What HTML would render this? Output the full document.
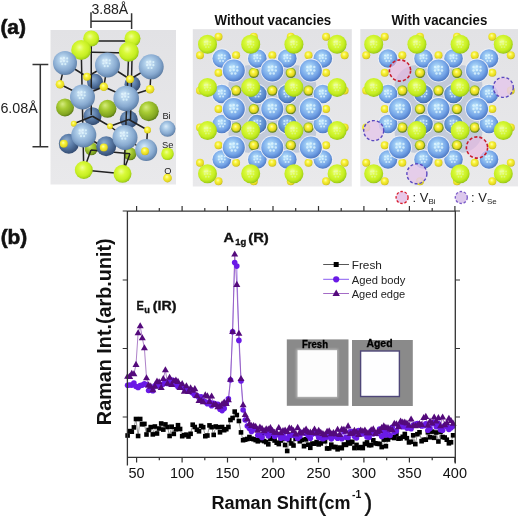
<!DOCTYPE html>
<html><head><meta charset="utf-8"><title>Bi2O2Se vacancies and Raman spectra</title>
<style>html,body{margin:0;padding:0;background:#fff;width:520px;height:516px;overflow:hidden}svg{display:block}</style></head>
<body><svg width="520" height="516" viewBox="0 0 520 516">
<rect width="520" height="516" fill="#fff"/>
<defs>
<radialGradient id="gB" cx="0.45" cy="0.42" r="0.6" fx="0.42" fy="0.36">
 <stop offset="0" stop-color="#c8ecff"/><stop offset="0.3" stop-color="#9ccaf4"/><stop offset="0.68" stop-color="#76a6e8"/><stop offset="0.88" stop-color="#5a88d2"/><stop offset="1" stop-color="#4c74b8"/></radialGradient>
<radialGradient id="gB1" cx="0.45" cy="0.42" r="0.6" fx="0.4" fy="0.34">
 <stop offset="0" stop-color="#dcedfa"/><stop offset="0.3" stop-color="#b0cfea"/><stop offset="0.7" stop-color="#88aad0"/><stop offset="0.9" stop-color="#6a8cb4"/><stop offset="1" stop-color="#56749a"/></radialGradient>
<radialGradient id="gBd" cx="0.42" cy="0.38" r="0.62" fx="0.38" fy="0.32">
 <stop offset="0" stop-color="#90aed0"/><stop offset="0.5" stop-color="#5c7eaa"/><stop offset="1" stop-color="#344c72"/></radialGradient>
<radialGradient id="gG" cx="0.45" cy="0.42" r="0.6" fx="0.42" fy="0.36">
 <stop offset="0" stop-color="#f0ff98"/><stop offset="0.35" stop-color="#dafa3c"/><stop offset="0.72" stop-color="#c6ee22"/><stop offset="0.9" stop-color="#a8d618"/><stop offset="1" stop-color="#88b418"/></radialGradient>
<radialGradient id="gG1" cx="0.42" cy="0.38" r="0.62" fx="0.36" fy="0.3">
 <stop offset="0" stop-color="#d6ec80"/><stop offset="0.4" stop-color="#a8cc34"/><stop offset="0.85" stop-color="#80a420"/><stop offset="1" stop-color="#5c7a18"/></radialGradient>
<radialGradient id="gY" cx="0.45" cy="0.42" r="0.6" fx="0.42" fy="0.36">
 <stop offset="0" stop-color="#ffffb0"/><stop offset="0.4" stop-color="#f8f236"/><stop offset="0.82" stop-color="#e2d622"/><stop offset="1" stop-color="#bcae18"/></radialGradient>
<radialGradient id="gBm" cx="0.45" cy="0.42" r="0.6" fx="0.42" fy="0.36">
 <stop offset="0" stop-color="#a8d0f4"/><stop offset="0.4" stop-color="#78a8e0"/><stop offset="0.85" stop-color="#4f7ec4"/><stop offset="1" stop-color="#3a5e9c"/></radialGradient>
<linearGradient id="gBg" x1="0" y1="0" x2="0" y2="1"><stop offset="0" stop-color="#e2e2e5"/><stop offset="1" stop-color="#e9e9eb"/></linearGradient>
</defs>
<rect x="50.5" y="30" width="125.5" height="154.5" fill="url(#gBg)"/>
<circle cx="95.0" cy="81.8" r="8" fill="url(#gBd)"/><circle cx="132.5" cy="84.2" r="8" fill="url(#gBd)"/><circle cx="92.5" cy="116.2" r="9" fill="url(#gBd)"/><circle cx="128.8" cy="119.5" r="9" fill="url(#gBd)"/><circle cx="91.2" cy="148.8" r="6.5" fill="url(#gG1)"/><circle cx="130.0" cy="153.8" r="6.5" fill="url(#gG1)"/><path d="M91.25 41L132.5 41M81.25 52L128.75 53M91.25 38.5L81.25 50M132.5 38.5L128.75 51.75M91.25 38.5L91.25 115M81.25 50L83.75 170M132.5 38.5L130.5 120M128.75 51.75L124 173.75M83.75 170L122.5 173.75M91 150L130 153.75M91 150L83.75 170M130 153.75L122.5 173.75M65 63L60 84.25M65 63L87 76.75M87 76.75L107.5 65M107.5 65L103.75 86.75M107.5 65L130 79.25M130 79.25L151.25 66.75M151.25 66.75L150 89.25M60 84.25L82.5 95.5M103.75 86.75L82.5 95.5M103.75 86.75L126.25 96.75M150 89.25L126.25 96.75M73.75 123.75L83.75 135M73.75 123.75L92.5 116.25M110 126.25L92.5 116.25M110 126.25L125 137.5M110 126.25L128.75 119.5M147.5 130L128.75 119.5M147.5 130L146.25 150M63.75 143.75L83.75 135M103.75 147.5L83.75 135M103.75 147.5L125 137.5M145 151.25L125 137.5" stroke="#222" stroke-width="1.5" fill="none"/><circle cx="91.2" cy="38.5" r="8" fill="url(#gG)"/><circle cx="132.5" cy="38.5" r="8" fill="url(#gG)"/><circle cx="81.2" cy="50.0" r="10" fill="url(#gG)"/><circle cx="128.8" cy="51.8" r="10" fill="url(#gG)"/><circle cx="65.0" cy="107.5" r="9" fill="url(#gG1)"/><circle cx="107.5" cy="108.8" r="9" fill="url(#gG1)"/><circle cx="148.8" cy="111.2" r="10" fill="url(#gG1)"/><circle cx="68.8" cy="143.8" r="10" fill="url(#gBd)"/><circle cx="106.2" cy="146.2" r="10" fill="url(#gBd)"/><circle cx="146.2" cy="150.0" r="11" fill="url(#gB1)"/><circle cx="60.0" cy="84.2" r="4.3" fill="url(#gY)"/><circle cx="87.0" cy="76.8" r="4" fill="url(#gY)"/><circle cx="103.8" cy="86.8" r="4.3" fill="url(#gY)"/><circle cx="130.0" cy="79.2" r="4" fill="url(#gY)"/><circle cx="150.0" cy="89.2" r="4.3" fill="url(#gY)"/><circle cx="73.8" cy="123.8" r="3" fill="url(#gY)"/><circle cx="110.0" cy="126.2" r="3" fill="url(#gY)"/><circle cx="147.5" cy="130.0" r="3.5" fill="url(#gY)"/><circle cx="63.8" cy="143.8" r="4" fill="url(#gY)"/><circle cx="103.8" cy="147.5" r="4" fill="url(#gY)"/><circle cx="145.0" cy="151.2" r="4" fill="url(#gY)"/><circle cx="65.0" cy="63.0" r="12" fill="url(#gB1)"/><circle cx="107.5" cy="65.0" r="12.5" fill="url(#gB1)"/><circle cx="151.2" cy="66.8" r="12.5" fill="url(#gB1)"/><circle cx="82.5" cy="97.0" r="12.5" fill="url(#gB1)"/><circle cx="126.2" cy="98.5" r="12.8" fill="url(#gB1)"/><circle cx="83.8" cy="135.0" r="12.5" fill="url(#gB1)"/><circle cx="125.0" cy="137.5" r="12.5" fill="url(#gB1)"/><circle cx="83.8" cy="170.0" r="9" fill="url(#gG)"/><circle cx="122.5" cy="173.8" r="9" fill="url(#gG)"/><g fill="#e8fcff" opacity="0.7"><circle cx="60.9" cy="58.4" r="1.08"/><circle cx="64.0" cy="57.9" r="1.08"/><circle cx="67.2" cy="58.4" r="1.08"/><circle cx="60.9" cy="61.5" r="1.08"/><circle cx="64.0" cy="61.0" r="1.08"/><circle cx="67.2" cy="61.5" r="1.08"/><circle cx="62.2" cy="64.2" r="1.08"/><circle cx="65.3" cy="64.2" r="1.08"/></g><g fill="#e8fcff" opacity="0.7"><circle cx="103.3" cy="60.4" r="1.08"/><circle cx="106.5" cy="59.9" r="1.08"/><circle cx="109.7" cy="60.4" r="1.08"/><circle cx="103.3" cy="63.5" r="1.08"/><circle cx="106.5" cy="63.0" r="1.08"/><circle cx="109.7" cy="63.5" r="1.08"/><circle cx="104.7" cy="66.2" r="1.08"/><circle cx="107.8" cy="66.2" r="1.08"/></g><g fill="#e8fcff" opacity="0.7"><circle cx="147.1" cy="62.1" r="1.08"/><circle cx="150.2" cy="61.6" r="1.08"/><circle cx="153.4" cy="62.1" r="1.08"/><circle cx="147.1" cy="65.2" r="1.08"/><circle cx="150.2" cy="64.8" r="1.08"/><circle cx="153.4" cy="65.2" r="1.08"/><circle cx="148.4" cy="68.0" r="1.08"/><circle cx="151.6" cy="68.0" r="1.08"/></g><g fill="#e8fcff" opacity="0.7"><circle cx="78.3" cy="92.3" r="1.08"/><circle cx="81.5" cy="91.9" r="1.08"/><circle cx="84.7" cy="92.3" r="1.08"/><circle cx="78.3" cy="95.5" r="1.08"/><circle cx="81.5" cy="95.0" r="1.08"/><circle cx="84.7" cy="95.5" r="1.08"/><circle cx="79.7" cy="98.2" r="1.08"/><circle cx="82.8" cy="98.2" r="1.08"/></g><g fill="#e8fcff" opacity="0.7"><circle cx="122.1" cy="93.8" r="1.08"/><circle cx="125.2" cy="93.4" r="1.08"/><circle cx="128.4" cy="93.8" r="1.08"/><circle cx="122.1" cy="97.0" r="1.08"/><circle cx="125.2" cy="96.5" r="1.08"/><circle cx="128.4" cy="97.0" r="1.08"/><circle cx="123.5" cy="99.7" r="1.08"/><circle cx="126.6" cy="99.7" r="1.08"/></g><g fill="#e8fcff" opacity="0.7"><circle cx="79.6" cy="130.3" r="1.08"/><circle cx="82.8" cy="129.9" r="1.08"/><circle cx="85.9" cy="130.3" r="1.08"/><circle cx="79.6" cy="133.5" r="1.08"/><circle cx="82.8" cy="133.1" r="1.08"/><circle cx="85.9" cy="133.5" r="1.08"/><circle cx="81.0" cy="136.2" r="1.08"/><circle cx="84.1" cy="136.2" r="1.08"/></g><g fill="#e8fcff" opacity="0.7"><circle cx="120.8" cy="132.8" r="1.08"/><circle cx="124.0" cy="132.4" r="1.08"/><circle cx="127.2" cy="132.8" r="1.08"/><circle cx="120.8" cy="136.0" r="1.08"/><circle cx="124.0" cy="135.6" r="1.08"/><circle cx="127.2" cy="136.0" r="1.08"/><circle cx="122.2" cy="138.7" r="1.08"/><circle cx="125.3" cy="138.7" r="1.08"/></g><circle cx="167.5" cy="128.8" r="8" fill="url(#gB1)"/><circle cx="167.5" cy="153.8" r="6.3" fill="url(#gG)"/><circle cx="167.5" cy="178.0" r="4.4" fill="url(#gY)"/><g font-family="Liberation Sans, Arial, sans-serif" font-size="9.3" fill="#222"><text x="162.4" y="119.2">Bi</text><text x="162" y="147.5">Se</text><text x="164.2" y="173.5">O</text></g>
<path d="M91 12.2V28M131.6 13.2V29M91 21.2H131.6M32.5 64.5H48.3M32.5 146.7H48.3M40.3 64.5V146.7" stroke="#333" stroke-width="1.5" fill="none"/>
<g font-family="Liberation Sans, Arial, sans-serif" font-size="14" fill="#222"><text x="91.4" y="13.9" textLength="36.8" lengthAdjust="spacingAndGlyphs">3.88Å</text><text x="0.4" y="113.3" textLength="37.4" lengthAdjust="spacingAndGlyphs">6.08Å</text></g>
<rect x="192.8" y="29.2" width="159.0" height="157.3" fill="url(#gBg)"/><rect x="228.3" y="65" width="88" height="88" rx="22" fill="#7892bc" opacity="0.33"/><circle cx="236.1" cy="90.5" r="5.2" fill="url(#gG1)"/><circle cx="236.1" cy="127.5" r="5.2" fill="url(#gG1)"/><circle cx="253.8" cy="72.8" r="5.2" fill="url(#gG1)"/><circle cx="253.8" cy="109.0" r="5.2" fill="url(#gG1)"/><circle cx="253.8" cy="145.2" r="5.2" fill="url(#gG1)"/><circle cx="272.3" cy="90.5" r="5.2" fill="url(#gG1)"/><circle cx="272.3" cy="127.5" r="5.2" fill="url(#gG1)"/><circle cx="290.8" cy="72.8" r="5.2" fill="url(#gG1)"/><circle cx="290.8" cy="109.0" r="5.2" fill="url(#gG1)"/><circle cx="290.8" cy="145.2" r="5.2" fill="url(#gG1)"/><circle cx="308.5" cy="90.5" r="5.2" fill="url(#gG1)"/><circle cx="308.5" cy="127.5" r="5.2" fill="url(#gG1)"/><circle cx="221.8" cy="58.5" r="10.3" fill="#eef0f4"/><circle cx="221.8" cy="58.5" r="9.3" fill="url(#gB)"/><g fill="#e8fcff" opacity="0.7"><circle cx="218.8" cy="55.5" r="1.02"/><circle cx="221.8" cy="55.1" r="1.02"/><circle cx="224.8" cy="55.5" r="1.02"/><circle cx="218.8" cy="58.5" r="1.02"/><circle cx="221.8" cy="58.1" r="1.02"/><circle cx="224.8" cy="58.5" r="1.02"/><circle cx="220.1" cy="61.0" r="1.02"/><circle cx="223.1" cy="61.0" r="1.02"/></g><circle cx="221.8" cy="94.0" r="10.3" fill="#eef0f4"/><circle cx="221.8" cy="94.0" r="9.3" fill="url(#gB)"/><g fill="#e8fcff" opacity="0.7"><circle cx="218.8" cy="91.0" r="1.02"/><circle cx="221.8" cy="90.6" r="1.02"/><circle cx="224.8" cy="91.0" r="1.02"/><circle cx="218.8" cy="94.0" r="1.02"/><circle cx="221.8" cy="93.6" r="1.02"/><circle cx="224.8" cy="94.0" r="1.02"/><circle cx="220.1" cy="96.5" r="1.02"/><circle cx="223.1" cy="96.5" r="1.02"/></g><circle cx="221.8" cy="124.0" r="10.3" fill="#eef0f4"/><circle cx="221.8" cy="124.0" r="9.3" fill="url(#gB)"/><g fill="#e8fcff" opacity="0.7"><circle cx="218.8" cy="121.0" r="1.02"/><circle cx="221.8" cy="120.6" r="1.02"/><circle cx="224.8" cy="121.0" r="1.02"/><circle cx="218.8" cy="124.0" r="1.02"/><circle cx="221.8" cy="123.6" r="1.02"/><circle cx="224.8" cy="124.0" r="1.02"/><circle cx="220.1" cy="126.5" r="1.02"/><circle cx="223.1" cy="126.5" r="1.02"/></g><circle cx="221.8" cy="159.5" r="10.3" fill="#eef0f4"/><circle cx="221.8" cy="159.5" r="9.3" fill="url(#gB)"/><g fill="#e8fcff" opacity="0.7"><circle cx="218.8" cy="156.5" r="1.02"/><circle cx="221.8" cy="156.1" r="1.02"/><circle cx="224.8" cy="156.5" r="1.02"/><circle cx="218.8" cy="159.5" r="1.02"/><circle cx="221.8" cy="159.1" r="1.02"/><circle cx="224.8" cy="159.5" r="1.02"/><circle cx="220.1" cy="162.1" r="1.02"/><circle cx="223.1" cy="162.1" r="1.02"/></g><circle cx="257.3" cy="58.5" r="10.3" fill="#eef0f4"/><circle cx="257.3" cy="58.5" r="9.3" fill="url(#gB)"/><g fill="#e8fcff" opacity="0.7"><circle cx="254.3" cy="55.5" r="1.02"/><circle cx="257.3" cy="55.1" r="1.02"/><circle cx="260.3" cy="55.5" r="1.02"/><circle cx="254.3" cy="58.5" r="1.02"/><circle cx="257.3" cy="58.1" r="1.02"/><circle cx="260.3" cy="58.5" r="1.02"/><circle cx="255.6" cy="61.0" r="1.02"/><circle cx="258.6" cy="61.0" r="1.02"/></g><circle cx="257.3" cy="94.0" r="10.3" fill="#eef0f4"/><circle cx="257.3" cy="94.0" r="9.3" fill="url(#gBm)"/><g fill="#e8fcff" opacity="0.7"><circle cx="254.3" cy="91.0" r="1.02"/><circle cx="257.3" cy="90.6" r="1.02"/><circle cx="260.3" cy="91.0" r="1.02"/><circle cx="254.3" cy="94.0" r="1.02"/><circle cx="257.3" cy="93.6" r="1.02"/><circle cx="260.3" cy="94.0" r="1.02"/><circle cx="255.6" cy="96.5" r="1.02"/><circle cx="258.6" cy="96.5" r="1.02"/></g><circle cx="257.3" cy="124.0" r="10.3" fill="#eef0f4"/><circle cx="257.3" cy="124.0" r="9.3" fill="url(#gBm)"/><g fill="#e8fcff" opacity="0.7"><circle cx="254.3" cy="121.0" r="1.02"/><circle cx="257.3" cy="120.6" r="1.02"/><circle cx="260.3" cy="121.0" r="1.02"/><circle cx="254.3" cy="124.0" r="1.02"/><circle cx="257.3" cy="123.6" r="1.02"/><circle cx="260.3" cy="124.0" r="1.02"/><circle cx="255.6" cy="126.5" r="1.02"/><circle cx="258.6" cy="126.5" r="1.02"/></g><circle cx="257.3" cy="159.5" r="10.3" fill="#eef0f4"/><circle cx="257.3" cy="159.5" r="9.3" fill="url(#gB)"/><g fill="#e8fcff" opacity="0.7"><circle cx="254.3" cy="156.5" r="1.02"/><circle cx="257.3" cy="156.1" r="1.02"/><circle cx="260.3" cy="156.5" r="1.02"/><circle cx="254.3" cy="159.5" r="1.02"/><circle cx="257.3" cy="159.1" r="1.02"/><circle cx="260.3" cy="159.5" r="1.02"/><circle cx="255.6" cy="162.1" r="1.02"/><circle cx="258.6" cy="162.1" r="1.02"/></g><circle cx="287.3" cy="58.5" r="10.3" fill="#eef0f4"/><circle cx="287.3" cy="58.5" r="9.3" fill="url(#gB)"/><g fill="#e8fcff" opacity="0.7"><circle cx="284.3" cy="55.5" r="1.02"/><circle cx="287.3" cy="55.1" r="1.02"/><circle cx="290.3" cy="55.5" r="1.02"/><circle cx="284.3" cy="58.5" r="1.02"/><circle cx="287.3" cy="58.1" r="1.02"/><circle cx="290.3" cy="58.5" r="1.02"/><circle cx="285.6" cy="61.0" r="1.02"/><circle cx="288.6" cy="61.0" r="1.02"/></g><circle cx="287.3" cy="94.0" r="10.3" fill="#eef0f4"/><circle cx="287.3" cy="94.0" r="9.3" fill="url(#gBm)"/><g fill="#e8fcff" opacity="0.7"><circle cx="284.3" cy="91.0" r="1.02"/><circle cx="287.3" cy="90.6" r="1.02"/><circle cx="290.3" cy="91.0" r="1.02"/><circle cx="284.3" cy="94.0" r="1.02"/><circle cx="287.3" cy="93.6" r="1.02"/><circle cx="290.3" cy="94.0" r="1.02"/><circle cx="285.6" cy="96.5" r="1.02"/><circle cx="288.6" cy="96.5" r="1.02"/></g><circle cx="287.3" cy="124.0" r="10.3" fill="#eef0f4"/><circle cx="287.3" cy="124.0" r="9.3" fill="url(#gBm)"/><g fill="#e8fcff" opacity="0.7"><circle cx="284.3" cy="121.0" r="1.02"/><circle cx="287.3" cy="120.6" r="1.02"/><circle cx="290.3" cy="121.0" r="1.02"/><circle cx="284.3" cy="124.0" r="1.02"/><circle cx="287.3" cy="123.6" r="1.02"/><circle cx="290.3" cy="124.0" r="1.02"/><circle cx="285.6" cy="126.5" r="1.02"/><circle cx="288.6" cy="126.5" r="1.02"/></g><circle cx="287.3" cy="159.5" r="10.3" fill="#eef0f4"/><circle cx="287.3" cy="159.5" r="9.3" fill="url(#gB)"/><g fill="#e8fcff" opacity="0.7"><circle cx="284.3" cy="156.5" r="1.02"/><circle cx="287.3" cy="156.1" r="1.02"/><circle cx="290.3" cy="156.5" r="1.02"/><circle cx="284.3" cy="159.5" r="1.02"/><circle cx="287.3" cy="159.1" r="1.02"/><circle cx="290.3" cy="159.5" r="1.02"/><circle cx="285.6" cy="162.1" r="1.02"/><circle cx="288.6" cy="162.1" r="1.02"/></g><circle cx="322.8" cy="58.5" r="10.3" fill="#eef0f4"/><circle cx="322.8" cy="58.5" r="9.3" fill="url(#gB)"/><g fill="#e8fcff" opacity="0.7"><circle cx="319.8" cy="55.5" r="1.02"/><circle cx="322.8" cy="55.1" r="1.02"/><circle cx="325.8" cy="55.5" r="1.02"/><circle cx="319.8" cy="58.5" r="1.02"/><circle cx="322.8" cy="58.1" r="1.02"/><circle cx="325.8" cy="58.5" r="1.02"/><circle cx="321.1" cy="61.0" r="1.02"/><circle cx="324.1" cy="61.0" r="1.02"/></g><circle cx="322.8" cy="94.0" r="10.3" fill="#eef0f4"/><circle cx="322.8" cy="94.0" r="9.3" fill="url(#gB)"/><g fill="#e8fcff" opacity="0.7"><circle cx="319.8" cy="91.0" r="1.02"/><circle cx="322.8" cy="90.6" r="1.02"/><circle cx="325.8" cy="91.0" r="1.02"/><circle cx="319.8" cy="94.0" r="1.02"/><circle cx="322.8" cy="93.6" r="1.02"/><circle cx="325.8" cy="94.0" r="1.02"/><circle cx="321.1" cy="96.5" r="1.02"/><circle cx="324.1" cy="96.5" r="1.02"/></g><circle cx="322.8" cy="124.0" r="10.3" fill="#eef0f4"/><circle cx="322.8" cy="124.0" r="9.3" fill="url(#gB)"/><g fill="#e8fcff" opacity="0.7"><circle cx="319.8" cy="121.0" r="1.02"/><circle cx="322.8" cy="120.6" r="1.02"/><circle cx="325.8" cy="121.0" r="1.02"/><circle cx="319.8" cy="124.0" r="1.02"/><circle cx="322.8" cy="123.6" r="1.02"/><circle cx="325.8" cy="124.0" r="1.02"/><circle cx="321.1" cy="126.5" r="1.02"/><circle cx="324.1" cy="126.5" r="1.02"/></g><circle cx="322.8" cy="159.5" r="10.3" fill="#eef0f4"/><circle cx="322.8" cy="159.5" r="9.3" fill="url(#gB)"/><g fill="#e8fcff" opacity="0.7"><circle cx="319.8" cy="156.5" r="1.02"/><circle cx="322.8" cy="156.1" r="1.02"/><circle cx="325.8" cy="156.5" r="1.02"/><circle cx="319.8" cy="159.5" r="1.02"/><circle cx="322.8" cy="159.1" r="1.02"/><circle cx="325.8" cy="159.5" r="1.02"/><circle cx="321.1" cy="162.1" r="1.02"/><circle cx="324.1" cy="162.1" r="1.02"/></g><circle cx="200.0" cy="55.2" r="4" fill="url(#gY)"/><circle cx="200.0" cy="90.5" r="4" fill="url(#gY)"/><circle cx="200.0" cy="127.5" r="4" fill="url(#gY)"/><circle cx="200.0" cy="162.8" r="4" fill="url(#gY)"/><circle cx="218.5" cy="36.7" r="4" fill="url(#gY)"/><circle cx="218.5" cy="72.8" r="4" fill="url(#gY)"/><circle cx="218.5" cy="109.0" r="4" fill="url(#gY)"/><circle cx="218.5" cy="145.2" r="4" fill="url(#gY)"/><circle cx="218.5" cy="181.3" r="4" fill="url(#gY)"/><circle cx="236.1" cy="55.2" r="4" fill="url(#gY)"/><circle cx="236.1" cy="90.5" r="4" fill="url(#gY)"/><circle cx="236.1" cy="127.5" r="4" fill="url(#gY)"/><circle cx="236.1" cy="162.8" r="4" fill="url(#gY)"/><circle cx="253.8" cy="36.7" r="4" fill="url(#gY)"/><circle cx="253.8" cy="72.8" r="4" fill="url(#gY)"/><circle cx="253.8" cy="109.0" r="4" fill="url(#gY)"/><circle cx="253.8" cy="145.2" r="4" fill="url(#gY)"/><circle cx="253.8" cy="181.3" r="4" fill="url(#gY)"/><circle cx="272.3" cy="55.2" r="4" fill="url(#gY)"/><circle cx="272.3" cy="90.5" r="4" fill="url(#gY)"/><circle cx="272.3" cy="127.5" r="4" fill="url(#gY)"/><circle cx="272.3" cy="162.8" r="4" fill="url(#gY)"/><circle cx="290.8" cy="36.7" r="4" fill="url(#gY)"/><circle cx="290.8" cy="72.8" r="4" fill="url(#gY)"/><circle cx="290.8" cy="109.0" r="4" fill="url(#gY)"/><circle cx="290.8" cy="145.2" r="4" fill="url(#gY)"/><circle cx="290.8" cy="181.3" r="4" fill="url(#gY)"/><circle cx="308.5" cy="55.2" r="4" fill="url(#gY)"/><circle cx="308.5" cy="90.5" r="4" fill="url(#gY)"/><circle cx="308.5" cy="127.5" r="4" fill="url(#gY)"/><circle cx="308.5" cy="162.8" r="4" fill="url(#gY)"/><circle cx="326.1" cy="36.7" r="4" fill="url(#gY)"/><circle cx="326.1" cy="72.8" r="4" fill="url(#gY)"/><circle cx="326.1" cy="109.0" r="4" fill="url(#gY)"/><circle cx="326.1" cy="145.2" r="4" fill="url(#gY)"/><circle cx="326.1" cy="181.3" r="4" fill="url(#gY)"/><circle cx="344.6" cy="55.2" r="4" fill="url(#gY)"/><circle cx="344.6" cy="90.5" r="4" fill="url(#gY)"/><circle cx="344.6" cy="127.5" r="4" fill="url(#gY)"/><circle cx="344.6" cy="162.8" r="4" fill="url(#gY)"/><circle cx="207.5" cy="44.2" r="9.5" fill="url(#gG)"/><g fill="#e8fcff" opacity="0.35"><circle cx="204.7" cy="41.9" r="0.96"/><circle cx="207.5" cy="41.5" r="0.96"/><circle cx="210.3" cy="41.9" r="0.96"/><circle cx="204.7" cy="44.7" r="0.96"/><circle cx="207.5" cy="44.3" r="0.96"/><circle cx="210.3" cy="44.7" r="0.96"/><circle cx="205.9" cy="47.1" r="0.96"/><circle cx="208.7" cy="47.1" r="0.96"/></g><circle cx="207.5" cy="87.4" r="9.5" fill="url(#gG)"/><g fill="#e8fcff" opacity="0.35"><circle cx="204.7" cy="85.1" r="0.96"/><circle cx="207.5" cy="84.7" r="0.96"/><circle cx="210.3" cy="85.1" r="0.96"/><circle cx="204.7" cy="87.9" r="0.96"/><circle cx="207.5" cy="87.5" r="0.96"/><circle cx="210.3" cy="87.9" r="0.96"/><circle cx="205.9" cy="90.3" r="0.96"/><circle cx="208.7" cy="90.3" r="0.96"/></g><circle cx="207.5" cy="130.6" r="9.5" fill="url(#gG)"/><g fill="#e8fcff" opacity="0.35"><circle cx="204.7" cy="128.3" r="0.96"/><circle cx="207.5" cy="127.9" r="0.96"/><circle cx="210.3" cy="128.3" r="0.96"/><circle cx="204.7" cy="131.1" r="0.96"/><circle cx="207.5" cy="130.7" r="0.96"/><circle cx="210.3" cy="131.1" r="0.96"/><circle cx="205.9" cy="133.5" r="0.96"/><circle cx="208.7" cy="133.5" r="0.96"/></g><circle cx="207.5" cy="173.8" r="9.5" fill="url(#gG)"/><g fill="#e8fcff" opacity="0.35"><circle cx="204.7" cy="171.5" r="0.96"/><circle cx="207.5" cy="171.1" r="0.96"/><circle cx="210.3" cy="171.5" r="0.96"/><circle cx="204.7" cy="174.3" r="0.96"/><circle cx="207.5" cy="173.9" r="0.96"/><circle cx="210.3" cy="174.3" r="0.96"/><circle cx="205.9" cy="176.7" r="0.96"/><circle cx="208.7" cy="176.7" r="0.96"/></g><circle cx="250.7" cy="44.2" r="9.5" fill="url(#gG)"/><g fill="#e8fcff" opacity="0.35"><circle cx="247.9" cy="41.9" r="0.96"/><circle cx="250.7" cy="41.5" r="0.96"/><circle cx="253.5" cy="41.9" r="0.96"/><circle cx="247.9" cy="44.7" r="0.96"/><circle cx="250.7" cy="44.3" r="0.96"/><circle cx="253.5" cy="44.7" r="0.96"/><circle cx="249.1" cy="47.1" r="0.96"/><circle cx="251.9" cy="47.1" r="0.96"/></g><circle cx="250.7" cy="87.4" r="9.5" fill="url(#gG)"/><g fill="#e8fcff" opacity="0.35"><circle cx="247.9" cy="85.1" r="0.96"/><circle cx="250.7" cy="84.7" r="0.96"/><circle cx="253.5" cy="85.1" r="0.96"/><circle cx="247.9" cy="87.9" r="0.96"/><circle cx="250.7" cy="87.5" r="0.96"/><circle cx="253.5" cy="87.9" r="0.96"/><circle cx="249.1" cy="90.3" r="0.96"/><circle cx="251.9" cy="90.3" r="0.96"/></g><circle cx="250.7" cy="130.6" r="9.5" fill="url(#gG)"/><g fill="#e8fcff" opacity="0.35"><circle cx="247.9" cy="128.3" r="0.96"/><circle cx="250.7" cy="127.9" r="0.96"/><circle cx="253.5" cy="128.3" r="0.96"/><circle cx="247.9" cy="131.1" r="0.96"/><circle cx="250.7" cy="130.7" r="0.96"/><circle cx="253.5" cy="131.1" r="0.96"/><circle cx="249.1" cy="133.5" r="0.96"/><circle cx="251.9" cy="133.5" r="0.96"/></g><circle cx="250.7" cy="173.8" r="9.5" fill="url(#gG)"/><g fill="#e8fcff" opacity="0.35"><circle cx="247.9" cy="171.5" r="0.96"/><circle cx="250.7" cy="171.1" r="0.96"/><circle cx="253.5" cy="171.5" r="0.96"/><circle cx="247.9" cy="174.3" r="0.96"/><circle cx="250.7" cy="173.9" r="0.96"/><circle cx="253.5" cy="174.3" r="0.96"/><circle cx="249.1" cy="176.7" r="0.96"/><circle cx="251.9" cy="176.7" r="0.96"/></g><circle cx="293.9" cy="44.2" r="9.5" fill="url(#gG)"/><g fill="#e8fcff" opacity="0.35"><circle cx="291.1" cy="41.9" r="0.96"/><circle cx="293.9" cy="41.5" r="0.96"/><circle cx="296.7" cy="41.9" r="0.96"/><circle cx="291.1" cy="44.7" r="0.96"/><circle cx="293.9" cy="44.3" r="0.96"/><circle cx="296.7" cy="44.7" r="0.96"/><circle cx="292.3" cy="47.1" r="0.96"/><circle cx="295.1" cy="47.1" r="0.96"/></g><circle cx="293.9" cy="87.4" r="9.5" fill="url(#gG)"/><g fill="#e8fcff" opacity="0.35"><circle cx="291.1" cy="85.1" r="0.96"/><circle cx="293.9" cy="84.7" r="0.96"/><circle cx="296.7" cy="85.1" r="0.96"/><circle cx="291.1" cy="87.9" r="0.96"/><circle cx="293.9" cy="87.5" r="0.96"/><circle cx="296.7" cy="87.9" r="0.96"/><circle cx="292.3" cy="90.3" r="0.96"/><circle cx="295.1" cy="90.3" r="0.96"/></g><circle cx="293.9" cy="130.6" r="9.5" fill="url(#gG)"/><g fill="#e8fcff" opacity="0.35"><circle cx="291.1" cy="128.3" r="0.96"/><circle cx="293.9" cy="127.9" r="0.96"/><circle cx="296.7" cy="128.3" r="0.96"/><circle cx="291.1" cy="131.1" r="0.96"/><circle cx="293.9" cy="130.7" r="0.96"/><circle cx="296.7" cy="131.1" r="0.96"/><circle cx="292.3" cy="133.5" r="0.96"/><circle cx="295.1" cy="133.5" r="0.96"/></g><circle cx="293.9" cy="173.8" r="9.5" fill="url(#gG)"/><g fill="#e8fcff" opacity="0.35"><circle cx="291.1" cy="171.5" r="0.96"/><circle cx="293.9" cy="171.1" r="0.96"/><circle cx="296.7" cy="171.5" r="0.96"/><circle cx="291.1" cy="174.3" r="0.96"/><circle cx="293.9" cy="173.9" r="0.96"/><circle cx="296.7" cy="174.3" r="0.96"/><circle cx="292.3" cy="176.7" r="0.96"/><circle cx="295.1" cy="176.7" r="0.96"/></g><circle cx="337.1" cy="44.2" r="9.5" fill="url(#gG)"/><g fill="#e8fcff" opacity="0.35"><circle cx="334.3" cy="41.9" r="0.96"/><circle cx="337.1" cy="41.5" r="0.96"/><circle cx="339.9" cy="41.9" r="0.96"/><circle cx="334.3" cy="44.7" r="0.96"/><circle cx="337.1" cy="44.3" r="0.96"/><circle cx="339.9" cy="44.7" r="0.96"/><circle cx="335.5" cy="47.1" r="0.96"/><circle cx="338.3" cy="47.1" r="0.96"/></g><circle cx="337.1" cy="87.4" r="9.5" fill="url(#gG)"/><g fill="#e8fcff" opacity="0.35"><circle cx="334.3" cy="85.1" r="0.96"/><circle cx="337.1" cy="84.7" r="0.96"/><circle cx="339.9" cy="85.1" r="0.96"/><circle cx="334.3" cy="87.9" r="0.96"/><circle cx="337.1" cy="87.5" r="0.96"/><circle cx="339.9" cy="87.9" r="0.96"/><circle cx="335.5" cy="90.3" r="0.96"/><circle cx="338.3" cy="90.3" r="0.96"/></g><circle cx="337.1" cy="130.6" r="9.5" fill="url(#gG)"/><g fill="#e8fcff" opacity="0.35"><circle cx="334.3" cy="128.3" r="0.96"/><circle cx="337.1" cy="127.9" r="0.96"/><circle cx="339.9" cy="128.3" r="0.96"/><circle cx="334.3" cy="131.1" r="0.96"/><circle cx="337.1" cy="130.7" r="0.96"/><circle cx="339.9" cy="131.1" r="0.96"/><circle cx="335.5" cy="133.5" r="0.96"/><circle cx="338.3" cy="133.5" r="0.96"/></g><circle cx="337.1" cy="173.8" r="9.5" fill="url(#gG)"/><g fill="#e8fcff" opacity="0.35"><circle cx="334.3" cy="171.5" r="0.96"/><circle cx="337.1" cy="171.1" r="0.96"/><circle cx="339.9" cy="171.5" r="0.96"/><circle cx="334.3" cy="174.3" r="0.96"/><circle cx="337.1" cy="173.9" r="0.96"/><circle cx="339.9" cy="174.3" r="0.96"/><circle cx="335.5" cy="176.7" r="0.96"/><circle cx="338.3" cy="176.7" r="0.96"/></g><circle cx="233.8" cy="70.5" r="11.9" fill="#eef0f6"/><circle cx="233.8" cy="70.5" r="11" fill="url(#gB)"/><g fill="#e8fcff" opacity="0.7"><circle cx="230.3" cy="67.0" r="1.20"/><circle cx="233.8" cy="66.5" r="1.20"/><circle cx="237.3" cy="67.0" r="1.20"/><circle cx="230.3" cy="70.5" r="1.20"/><circle cx="233.8" cy="70.0" r="1.20"/><circle cx="237.3" cy="70.5" r="1.20"/><circle cx="231.8" cy="73.5" r="1.20"/><circle cx="235.3" cy="73.5" r="1.20"/></g><circle cx="233.8" cy="109.0" r="11.9" fill="#eef0f6"/><circle cx="233.8" cy="109.0" r="11" fill="url(#gB)"/><g fill="#e8fcff" opacity="0.7"><circle cx="230.3" cy="105.5" r="1.20"/><circle cx="233.8" cy="105.0" r="1.20"/><circle cx="237.3" cy="105.5" r="1.20"/><circle cx="230.3" cy="109.0" r="1.20"/><circle cx="233.8" cy="108.5" r="1.20"/><circle cx="237.3" cy="109.0" r="1.20"/><circle cx="231.8" cy="112.0" r="1.20"/><circle cx="235.3" cy="112.0" r="1.20"/></g><circle cx="233.8" cy="147.5" r="11.9" fill="#eef0f6"/><circle cx="233.8" cy="147.5" r="11" fill="url(#gB)"/><g fill="#e8fcff" opacity="0.7"><circle cx="230.3" cy="144.0" r="1.20"/><circle cx="233.8" cy="143.5" r="1.20"/><circle cx="237.3" cy="144.0" r="1.20"/><circle cx="230.3" cy="147.5" r="1.20"/><circle cx="233.8" cy="147.0" r="1.20"/><circle cx="237.3" cy="147.5" r="1.20"/><circle cx="231.8" cy="150.5" r="1.20"/><circle cx="235.3" cy="150.5" r="1.20"/></g><circle cx="272.3" cy="70.5" r="11.9" fill="#eef0f6"/><circle cx="272.3" cy="70.5" r="11" fill="url(#gB)"/><g fill="#e8fcff" opacity="0.7"><circle cx="268.8" cy="67.0" r="1.20"/><circle cx="272.3" cy="66.5" r="1.20"/><circle cx="275.8" cy="67.0" r="1.20"/><circle cx="268.8" cy="70.5" r="1.20"/><circle cx="272.3" cy="70.0" r="1.20"/><circle cx="275.8" cy="70.5" r="1.20"/><circle cx="270.3" cy="73.5" r="1.20"/><circle cx="273.8" cy="73.5" r="1.20"/></g><circle cx="272.3" cy="109.0" r="11.9" fill="#eef0f6"/><circle cx="272.3" cy="109.0" r="11" fill="url(#gB)"/><g fill="#e8fcff" opacity="0.7"><circle cx="268.8" cy="105.5" r="1.20"/><circle cx="272.3" cy="105.0" r="1.20"/><circle cx="275.8" cy="105.5" r="1.20"/><circle cx="268.8" cy="109.0" r="1.20"/><circle cx="272.3" cy="108.5" r="1.20"/><circle cx="275.8" cy="109.0" r="1.20"/><circle cx="270.3" cy="112.0" r="1.20"/><circle cx="273.8" cy="112.0" r="1.20"/></g><circle cx="272.3" cy="147.5" r="11.9" fill="#eef0f6"/><circle cx="272.3" cy="147.5" r="11" fill="url(#gB)"/><g fill="#e8fcff" opacity="0.7"><circle cx="268.8" cy="144.0" r="1.20"/><circle cx="272.3" cy="143.5" r="1.20"/><circle cx="275.8" cy="144.0" r="1.20"/><circle cx="268.8" cy="147.5" r="1.20"/><circle cx="272.3" cy="147.0" r="1.20"/><circle cx="275.8" cy="147.5" r="1.20"/><circle cx="270.3" cy="150.5" r="1.20"/><circle cx="273.8" cy="150.5" r="1.20"/></g><circle cx="310.8" cy="70.5" r="11.9" fill="#eef0f6"/><circle cx="310.8" cy="70.5" r="11" fill="url(#gB)"/><g fill="#e8fcff" opacity="0.7"><circle cx="307.3" cy="67.0" r="1.20"/><circle cx="310.8" cy="66.5" r="1.20"/><circle cx="314.3" cy="67.0" r="1.20"/><circle cx="307.3" cy="70.5" r="1.20"/><circle cx="310.8" cy="70.0" r="1.20"/><circle cx="314.3" cy="70.5" r="1.20"/><circle cx="308.8" cy="73.5" r="1.20"/><circle cx="312.3" cy="73.5" r="1.20"/></g><circle cx="310.8" cy="109.0" r="11.9" fill="#eef0f6"/><circle cx="310.8" cy="109.0" r="11" fill="url(#gB)"/><g fill="#e8fcff" opacity="0.7"><circle cx="307.3" cy="105.5" r="1.20"/><circle cx="310.8" cy="105.0" r="1.20"/><circle cx="314.3" cy="105.5" r="1.20"/><circle cx="307.3" cy="109.0" r="1.20"/><circle cx="310.8" cy="108.5" r="1.20"/><circle cx="314.3" cy="109.0" r="1.20"/><circle cx="308.8" cy="112.0" r="1.20"/><circle cx="312.3" cy="112.0" r="1.20"/></g><circle cx="310.8" cy="147.5" r="11.9" fill="#eef0f6"/><circle cx="310.8" cy="147.5" r="11" fill="url(#gB)"/><g fill="#e8fcff" opacity="0.7"><circle cx="307.3" cy="144.0" r="1.20"/><circle cx="310.8" cy="143.5" r="1.20"/><circle cx="314.3" cy="144.0" r="1.20"/><circle cx="307.3" cy="147.5" r="1.20"/><circle cx="310.8" cy="147.0" r="1.20"/><circle cx="314.3" cy="147.5" r="1.20"/><circle cx="308.8" cy="150.5" r="1.20"/><circle cx="312.3" cy="150.5" r="1.20"/></g>
<rect x="360.3" y="29.1" width="157.7" height="157.3" fill="url(#gBg)"/><rect x="394.5" y="65" width="88" height="88" rx="22" fill="#7892bc" opacity="0.33"/><circle cx="402.3" cy="90.5" r="5.2" fill="url(#gG1)"/><circle cx="402.3" cy="127.5" r="5.2" fill="url(#gG1)"/><circle cx="420.0" cy="72.8" r="5.2" fill="url(#gG1)"/><circle cx="420.0" cy="109.0" r="5.2" fill="url(#gG1)"/><circle cx="420.0" cy="145.2" r="5.2" fill="url(#gG1)"/><circle cx="438.5" cy="90.5" r="5.2" fill="url(#gG1)"/><circle cx="438.5" cy="127.5" r="5.2" fill="url(#gG1)"/><circle cx="457.0" cy="72.8" r="5.2" fill="url(#gG1)"/><circle cx="457.0" cy="109.0" r="5.2" fill="url(#gG1)"/><circle cx="457.0" cy="145.2" r="5.2" fill="url(#gG1)"/><circle cx="474.7" cy="90.5" r="5.2" fill="url(#gG1)"/><circle cx="474.7" cy="127.5" r="5.2" fill="url(#gG1)"/><circle cx="388.0" cy="58.5" r="10.3" fill="#eef0f4"/><circle cx="388.0" cy="58.5" r="9.3" fill="url(#gB)"/><g fill="#e8fcff" opacity="0.7"><circle cx="385.0" cy="55.5" r="1.02"/><circle cx="388.0" cy="55.1" r="1.02"/><circle cx="391.0" cy="55.5" r="1.02"/><circle cx="385.0" cy="58.5" r="1.02"/><circle cx="388.0" cy="58.1" r="1.02"/><circle cx="391.0" cy="58.5" r="1.02"/><circle cx="386.3" cy="61.0" r="1.02"/><circle cx="389.3" cy="61.0" r="1.02"/></g><circle cx="388.0" cy="94.0" r="10.3" fill="#eef0f4"/><circle cx="388.0" cy="94.0" r="9.3" fill="url(#gB)"/><g fill="#e8fcff" opacity="0.7"><circle cx="385.0" cy="91.0" r="1.02"/><circle cx="388.0" cy="90.6" r="1.02"/><circle cx="391.0" cy="91.0" r="1.02"/><circle cx="385.0" cy="94.0" r="1.02"/><circle cx="388.0" cy="93.6" r="1.02"/><circle cx="391.0" cy="94.0" r="1.02"/><circle cx="386.3" cy="96.5" r="1.02"/><circle cx="389.3" cy="96.5" r="1.02"/></g><circle cx="388.0" cy="124.0" r="10.3" fill="#eef0f4"/><circle cx="388.0" cy="124.0" r="9.3" fill="url(#gB)"/><g fill="#e8fcff" opacity="0.7"><circle cx="385.0" cy="121.0" r="1.02"/><circle cx="388.0" cy="120.6" r="1.02"/><circle cx="391.0" cy="121.0" r="1.02"/><circle cx="385.0" cy="124.0" r="1.02"/><circle cx="388.0" cy="123.6" r="1.02"/><circle cx="391.0" cy="124.0" r="1.02"/><circle cx="386.3" cy="126.5" r="1.02"/><circle cx="389.3" cy="126.5" r="1.02"/></g><circle cx="388.0" cy="159.5" r="10.3" fill="#eef0f4"/><circle cx="388.0" cy="159.5" r="9.3" fill="url(#gB)"/><g fill="#e8fcff" opacity="0.7"><circle cx="385.0" cy="156.5" r="1.02"/><circle cx="388.0" cy="156.1" r="1.02"/><circle cx="391.0" cy="156.5" r="1.02"/><circle cx="385.0" cy="159.5" r="1.02"/><circle cx="388.0" cy="159.1" r="1.02"/><circle cx="391.0" cy="159.5" r="1.02"/><circle cx="386.3" cy="162.1" r="1.02"/><circle cx="389.3" cy="162.1" r="1.02"/></g><circle cx="423.5" cy="58.5" r="10.3" fill="#eef0f4"/><circle cx="423.5" cy="58.5" r="9.3" fill="url(#gB)"/><g fill="#e8fcff" opacity="0.7"><circle cx="420.5" cy="55.5" r="1.02"/><circle cx="423.5" cy="55.1" r="1.02"/><circle cx="426.5" cy="55.5" r="1.02"/><circle cx="420.5" cy="58.5" r="1.02"/><circle cx="423.5" cy="58.1" r="1.02"/><circle cx="426.5" cy="58.5" r="1.02"/><circle cx="421.8" cy="61.0" r="1.02"/><circle cx="424.8" cy="61.0" r="1.02"/></g><circle cx="423.5" cy="94.0" r="10.3" fill="#eef0f4"/><circle cx="423.5" cy="94.0" r="9.3" fill="url(#gBm)"/><g fill="#e8fcff" opacity="0.7"><circle cx="420.5" cy="91.0" r="1.02"/><circle cx="423.5" cy="90.6" r="1.02"/><circle cx="426.5" cy="91.0" r="1.02"/><circle cx="420.5" cy="94.0" r="1.02"/><circle cx="423.5" cy="93.6" r="1.02"/><circle cx="426.5" cy="94.0" r="1.02"/><circle cx="421.8" cy="96.5" r="1.02"/><circle cx="424.8" cy="96.5" r="1.02"/></g><circle cx="423.5" cy="124.0" r="10.3" fill="#eef0f4"/><circle cx="423.5" cy="124.0" r="9.3" fill="url(#gBm)"/><g fill="#e8fcff" opacity="0.7"><circle cx="420.5" cy="121.0" r="1.02"/><circle cx="423.5" cy="120.6" r="1.02"/><circle cx="426.5" cy="121.0" r="1.02"/><circle cx="420.5" cy="124.0" r="1.02"/><circle cx="423.5" cy="123.6" r="1.02"/><circle cx="426.5" cy="124.0" r="1.02"/><circle cx="421.8" cy="126.5" r="1.02"/><circle cx="424.8" cy="126.5" r="1.02"/></g><circle cx="423.5" cy="159.5" r="10.3" fill="#eef0f4"/><circle cx="423.5" cy="159.5" r="9.3" fill="url(#gB)"/><g fill="#e8fcff" opacity="0.7"><circle cx="420.5" cy="156.5" r="1.02"/><circle cx="423.5" cy="156.1" r="1.02"/><circle cx="426.5" cy="156.5" r="1.02"/><circle cx="420.5" cy="159.5" r="1.02"/><circle cx="423.5" cy="159.1" r="1.02"/><circle cx="426.5" cy="159.5" r="1.02"/><circle cx="421.8" cy="162.1" r="1.02"/><circle cx="424.8" cy="162.1" r="1.02"/></g><circle cx="453.5" cy="58.5" r="10.3" fill="#eef0f4"/><circle cx="453.5" cy="58.5" r="9.3" fill="url(#gB)"/><g fill="#e8fcff" opacity="0.7"><circle cx="450.5" cy="55.5" r="1.02"/><circle cx="453.5" cy="55.1" r="1.02"/><circle cx="456.5" cy="55.5" r="1.02"/><circle cx="450.5" cy="58.5" r="1.02"/><circle cx="453.5" cy="58.1" r="1.02"/><circle cx="456.5" cy="58.5" r="1.02"/><circle cx="451.8" cy="61.0" r="1.02"/><circle cx="454.8" cy="61.0" r="1.02"/></g><circle cx="453.5" cy="94.0" r="10.3" fill="#eef0f4"/><circle cx="453.5" cy="94.0" r="9.3" fill="url(#gBm)"/><g fill="#e8fcff" opacity="0.7"><circle cx="450.5" cy="91.0" r="1.02"/><circle cx="453.5" cy="90.6" r="1.02"/><circle cx="456.5" cy="91.0" r="1.02"/><circle cx="450.5" cy="94.0" r="1.02"/><circle cx="453.5" cy="93.6" r="1.02"/><circle cx="456.5" cy="94.0" r="1.02"/><circle cx="451.8" cy="96.5" r="1.02"/><circle cx="454.8" cy="96.5" r="1.02"/></g><circle cx="453.5" cy="124.0" r="10.3" fill="#eef0f4"/><circle cx="453.5" cy="124.0" r="9.3" fill="url(#gBm)"/><g fill="#e8fcff" opacity="0.7"><circle cx="450.5" cy="121.0" r="1.02"/><circle cx="453.5" cy="120.6" r="1.02"/><circle cx="456.5" cy="121.0" r="1.02"/><circle cx="450.5" cy="124.0" r="1.02"/><circle cx="453.5" cy="123.6" r="1.02"/><circle cx="456.5" cy="124.0" r="1.02"/><circle cx="451.8" cy="126.5" r="1.02"/><circle cx="454.8" cy="126.5" r="1.02"/></g><circle cx="453.5" cy="159.5" r="10.3" fill="#eef0f4"/><circle cx="453.5" cy="159.5" r="9.3" fill="url(#gB)"/><g fill="#e8fcff" opacity="0.7"><circle cx="450.5" cy="156.5" r="1.02"/><circle cx="453.5" cy="156.1" r="1.02"/><circle cx="456.5" cy="156.5" r="1.02"/><circle cx="450.5" cy="159.5" r="1.02"/><circle cx="453.5" cy="159.1" r="1.02"/><circle cx="456.5" cy="159.5" r="1.02"/><circle cx="451.8" cy="162.1" r="1.02"/><circle cx="454.8" cy="162.1" r="1.02"/></g><circle cx="489.0" cy="58.5" r="10.3" fill="#eef0f4"/><circle cx="489.0" cy="58.5" r="9.3" fill="url(#gB)"/><g fill="#e8fcff" opacity="0.7"><circle cx="486.0" cy="55.5" r="1.02"/><circle cx="489.0" cy="55.1" r="1.02"/><circle cx="492.0" cy="55.5" r="1.02"/><circle cx="486.0" cy="58.5" r="1.02"/><circle cx="489.0" cy="58.1" r="1.02"/><circle cx="492.0" cy="58.5" r="1.02"/><circle cx="487.3" cy="61.0" r="1.02"/><circle cx="490.3" cy="61.0" r="1.02"/></g><circle cx="489.0" cy="94.0" r="10.3" fill="#eef0f4"/><circle cx="489.0" cy="94.0" r="9.3" fill="url(#gB)"/><g fill="#e8fcff" opacity="0.7"><circle cx="486.0" cy="91.0" r="1.02"/><circle cx="489.0" cy="90.6" r="1.02"/><circle cx="492.0" cy="91.0" r="1.02"/><circle cx="486.0" cy="94.0" r="1.02"/><circle cx="489.0" cy="93.6" r="1.02"/><circle cx="492.0" cy="94.0" r="1.02"/><circle cx="487.3" cy="96.5" r="1.02"/><circle cx="490.3" cy="96.5" r="1.02"/></g><circle cx="489.0" cy="124.0" r="10.3" fill="#eef0f4"/><circle cx="489.0" cy="124.0" r="9.3" fill="url(#gB)"/><g fill="#e8fcff" opacity="0.7"><circle cx="486.0" cy="121.0" r="1.02"/><circle cx="489.0" cy="120.6" r="1.02"/><circle cx="492.0" cy="121.0" r="1.02"/><circle cx="486.0" cy="124.0" r="1.02"/><circle cx="489.0" cy="123.6" r="1.02"/><circle cx="492.0" cy="124.0" r="1.02"/><circle cx="487.3" cy="126.5" r="1.02"/><circle cx="490.3" cy="126.5" r="1.02"/></g><circle cx="489.0" cy="159.5" r="10.3" fill="#eef0f4"/><circle cx="489.0" cy="159.5" r="9.3" fill="url(#gB)"/><g fill="#e8fcff" opacity="0.7"><circle cx="486.0" cy="156.5" r="1.02"/><circle cx="489.0" cy="156.1" r="1.02"/><circle cx="492.0" cy="156.5" r="1.02"/><circle cx="486.0" cy="159.5" r="1.02"/><circle cx="489.0" cy="159.1" r="1.02"/><circle cx="492.0" cy="159.5" r="1.02"/><circle cx="487.3" cy="162.1" r="1.02"/><circle cx="490.3" cy="162.1" r="1.02"/></g><circle cx="366.2" cy="55.2" r="4" fill="url(#gY)"/><circle cx="366.2" cy="90.5" r="4" fill="url(#gY)"/><circle cx="366.2" cy="127.5" r="4" fill="url(#gY)"/><circle cx="366.2" cy="162.8" r="4" fill="url(#gY)"/><circle cx="384.7" cy="36.7" r="4" fill="url(#gY)"/><circle cx="384.7" cy="72.8" r="4" fill="url(#gY)"/><circle cx="384.7" cy="109.0" r="4" fill="url(#gY)"/><circle cx="384.7" cy="145.2" r="4" fill="url(#gY)"/><circle cx="384.7" cy="181.3" r="4" fill="url(#gY)"/><circle cx="402.3" cy="55.2" r="4" fill="url(#gY)"/><circle cx="402.3" cy="90.5" r="4" fill="url(#gY)"/><circle cx="402.3" cy="127.5" r="4" fill="url(#gY)"/><circle cx="402.3" cy="162.8" r="4" fill="url(#gY)"/><circle cx="420.0" cy="36.7" r="4" fill="url(#gY)"/><circle cx="420.0" cy="72.8" r="4" fill="url(#gY)"/><circle cx="420.0" cy="109.0" r="4" fill="url(#gY)"/><circle cx="420.0" cy="145.2" r="4" fill="url(#gY)"/><circle cx="420.0" cy="181.3" r="4" fill="url(#gY)"/><circle cx="438.5" cy="55.2" r="4" fill="url(#gY)"/><circle cx="438.5" cy="90.5" r="4" fill="url(#gY)"/><circle cx="438.5" cy="127.5" r="4" fill="url(#gY)"/><circle cx="438.5" cy="162.8" r="4" fill="url(#gY)"/><circle cx="457.0" cy="36.7" r="4" fill="url(#gY)"/><circle cx="457.0" cy="72.8" r="4" fill="url(#gY)"/><circle cx="457.0" cy="109.0" r="4" fill="url(#gY)"/><circle cx="457.0" cy="145.2" r="4" fill="url(#gY)"/><circle cx="457.0" cy="181.3" r="4" fill="url(#gY)"/><circle cx="474.7" cy="55.2" r="4" fill="url(#gY)"/><circle cx="474.7" cy="90.5" r="4" fill="url(#gY)"/><circle cx="474.7" cy="127.5" r="4" fill="url(#gY)"/><circle cx="474.7" cy="162.8" r="4" fill="url(#gY)"/><circle cx="492.3" cy="36.7" r="4" fill="url(#gY)"/><circle cx="492.3" cy="72.8" r="4" fill="url(#gY)"/><circle cx="492.3" cy="109.0" r="4" fill="url(#gY)"/><circle cx="492.3" cy="145.2" r="4" fill="url(#gY)"/><circle cx="492.3" cy="181.3" r="4" fill="url(#gY)"/><circle cx="510.8" cy="55.2" r="4" fill="url(#gY)"/><circle cx="510.8" cy="90.5" r="4" fill="url(#gY)"/><circle cx="510.8" cy="127.5" r="4" fill="url(#gY)"/><circle cx="510.8" cy="162.8" r="4" fill="url(#gY)"/><circle cx="373.7" cy="44.2" r="9.5" fill="url(#gG)"/><g fill="#e8fcff" opacity="0.35"><circle cx="370.9" cy="41.9" r="0.96"/><circle cx="373.7" cy="41.5" r="0.96"/><circle cx="376.5" cy="41.9" r="0.96"/><circle cx="370.9" cy="44.7" r="0.96"/><circle cx="373.7" cy="44.3" r="0.96"/><circle cx="376.5" cy="44.7" r="0.96"/><circle cx="372.1" cy="47.1" r="0.96"/><circle cx="374.9" cy="47.1" r="0.96"/></g><circle cx="373.7" cy="87.4" r="9.5" fill="url(#gG)"/><g fill="#e8fcff" opacity="0.35"><circle cx="370.9" cy="85.1" r="0.96"/><circle cx="373.7" cy="84.7" r="0.96"/><circle cx="376.5" cy="85.1" r="0.96"/><circle cx="370.9" cy="87.9" r="0.96"/><circle cx="373.7" cy="87.5" r="0.96"/><circle cx="376.5" cy="87.9" r="0.96"/><circle cx="372.1" cy="90.3" r="0.96"/><circle cx="374.9" cy="90.3" r="0.96"/></g><circle cx="373.7" cy="173.8" r="9.5" fill="url(#gG)"/><g fill="#e8fcff" opacity="0.35"><circle cx="370.9" cy="171.5" r="0.96"/><circle cx="373.7" cy="171.1" r="0.96"/><circle cx="376.5" cy="171.5" r="0.96"/><circle cx="370.9" cy="174.3" r="0.96"/><circle cx="373.7" cy="173.9" r="0.96"/><circle cx="376.5" cy="174.3" r="0.96"/><circle cx="372.1" cy="176.7" r="0.96"/><circle cx="374.9" cy="176.7" r="0.96"/></g><circle cx="416.9" cy="44.2" r="9.5" fill="url(#gG)"/><g fill="#e8fcff" opacity="0.35"><circle cx="414.1" cy="41.9" r="0.96"/><circle cx="416.9" cy="41.5" r="0.96"/><circle cx="419.7" cy="41.9" r="0.96"/><circle cx="414.1" cy="44.7" r="0.96"/><circle cx="416.9" cy="44.3" r="0.96"/><circle cx="419.7" cy="44.7" r="0.96"/><circle cx="415.3" cy="47.1" r="0.96"/><circle cx="418.1" cy="47.1" r="0.96"/></g><circle cx="416.9" cy="87.4" r="9.5" fill="url(#gG)"/><g fill="#e8fcff" opacity="0.35"><circle cx="414.1" cy="85.1" r="0.96"/><circle cx="416.9" cy="84.7" r="0.96"/><circle cx="419.7" cy="85.1" r="0.96"/><circle cx="414.1" cy="87.9" r="0.96"/><circle cx="416.9" cy="87.5" r="0.96"/><circle cx="419.7" cy="87.9" r="0.96"/><circle cx="415.3" cy="90.3" r="0.96"/><circle cx="418.1" cy="90.3" r="0.96"/></g><circle cx="416.9" cy="130.6" r="9.5" fill="url(#gG)"/><g fill="#e8fcff" opacity="0.35"><circle cx="414.1" cy="128.3" r="0.96"/><circle cx="416.9" cy="127.9" r="0.96"/><circle cx="419.7" cy="128.3" r="0.96"/><circle cx="414.1" cy="131.1" r="0.96"/><circle cx="416.9" cy="130.7" r="0.96"/><circle cx="419.7" cy="131.1" r="0.96"/><circle cx="415.3" cy="133.5" r="0.96"/><circle cx="418.1" cy="133.5" r="0.96"/></g><circle cx="460.1" cy="44.2" r="9.5" fill="url(#gG)"/><g fill="#e8fcff" opacity="0.35"><circle cx="457.3" cy="41.9" r="0.96"/><circle cx="460.1" cy="41.5" r="0.96"/><circle cx="462.9" cy="41.9" r="0.96"/><circle cx="457.3" cy="44.7" r="0.96"/><circle cx="460.1" cy="44.3" r="0.96"/><circle cx="462.9" cy="44.7" r="0.96"/><circle cx="458.5" cy="47.1" r="0.96"/><circle cx="461.3" cy="47.1" r="0.96"/></g><circle cx="460.1" cy="87.4" r="9.5" fill="url(#gG)"/><g fill="#e8fcff" opacity="0.35"><circle cx="457.3" cy="85.1" r="0.96"/><circle cx="460.1" cy="84.7" r="0.96"/><circle cx="462.9" cy="85.1" r="0.96"/><circle cx="457.3" cy="87.9" r="0.96"/><circle cx="460.1" cy="87.5" r="0.96"/><circle cx="462.9" cy="87.9" r="0.96"/><circle cx="458.5" cy="90.3" r="0.96"/><circle cx="461.3" cy="90.3" r="0.96"/></g><circle cx="460.1" cy="130.6" r="9.5" fill="url(#gG)"/><g fill="#e8fcff" opacity="0.35"><circle cx="457.3" cy="128.3" r="0.96"/><circle cx="460.1" cy="127.9" r="0.96"/><circle cx="462.9" cy="128.3" r="0.96"/><circle cx="457.3" cy="131.1" r="0.96"/><circle cx="460.1" cy="130.7" r="0.96"/><circle cx="462.9" cy="131.1" r="0.96"/><circle cx="458.5" cy="133.5" r="0.96"/><circle cx="461.3" cy="133.5" r="0.96"/></g><circle cx="460.1" cy="173.8" r="9.5" fill="url(#gG)"/><g fill="#e8fcff" opacity="0.35"><circle cx="457.3" cy="171.5" r="0.96"/><circle cx="460.1" cy="171.1" r="0.96"/><circle cx="462.9" cy="171.5" r="0.96"/><circle cx="457.3" cy="174.3" r="0.96"/><circle cx="460.1" cy="173.9" r="0.96"/><circle cx="462.9" cy="174.3" r="0.96"/><circle cx="458.5" cy="176.7" r="0.96"/><circle cx="461.3" cy="176.7" r="0.96"/></g><circle cx="503.3" cy="44.2" r="9.5" fill="url(#gG)"/><g fill="#e8fcff" opacity="0.35"><circle cx="500.5" cy="41.9" r="0.96"/><circle cx="503.3" cy="41.5" r="0.96"/><circle cx="506.1" cy="41.9" r="0.96"/><circle cx="500.5" cy="44.7" r="0.96"/><circle cx="503.3" cy="44.3" r="0.96"/><circle cx="506.1" cy="44.7" r="0.96"/><circle cx="501.7" cy="47.1" r="0.96"/><circle cx="504.5" cy="47.1" r="0.96"/></g><circle cx="503.3" cy="130.6" r="9.5" fill="url(#gG)"/><g fill="#e8fcff" opacity="0.35"><circle cx="500.5" cy="128.3" r="0.96"/><circle cx="503.3" cy="127.9" r="0.96"/><circle cx="506.1" cy="128.3" r="0.96"/><circle cx="500.5" cy="131.1" r="0.96"/><circle cx="503.3" cy="130.7" r="0.96"/><circle cx="506.1" cy="131.1" r="0.96"/><circle cx="501.7" cy="133.5" r="0.96"/><circle cx="504.5" cy="133.5" r="0.96"/></g><circle cx="503.3" cy="173.8" r="9.5" fill="url(#gG)"/><g fill="#e8fcff" opacity="0.35"><circle cx="500.5" cy="171.5" r="0.96"/><circle cx="503.3" cy="171.1" r="0.96"/><circle cx="506.1" cy="171.5" r="0.96"/><circle cx="500.5" cy="174.3" r="0.96"/><circle cx="503.3" cy="173.9" r="0.96"/><circle cx="506.1" cy="174.3" r="0.96"/><circle cx="501.7" cy="176.7" r="0.96"/><circle cx="504.5" cy="176.7" r="0.96"/></g><circle cx="400.0" cy="109.0" r="11.9" fill="#eef0f6"/><circle cx="400.0" cy="109.0" r="11" fill="url(#gB)"/><g fill="#e8fcff" opacity="0.7"><circle cx="396.5" cy="105.5" r="1.20"/><circle cx="400.0" cy="105.0" r="1.20"/><circle cx="403.5" cy="105.5" r="1.20"/><circle cx="396.5" cy="109.0" r="1.20"/><circle cx="400.0" cy="108.5" r="1.20"/><circle cx="403.5" cy="109.0" r="1.20"/><circle cx="398.0" cy="112.0" r="1.20"/><circle cx="401.5" cy="112.0" r="1.20"/></g><circle cx="400.0" cy="147.5" r="11.9" fill="#eef0f6"/><circle cx="400.0" cy="147.5" r="11" fill="url(#gB)"/><g fill="#e8fcff" opacity="0.7"><circle cx="396.5" cy="144.0" r="1.20"/><circle cx="400.0" cy="143.5" r="1.20"/><circle cx="403.5" cy="144.0" r="1.20"/><circle cx="396.5" cy="147.5" r="1.20"/><circle cx="400.0" cy="147.0" r="1.20"/><circle cx="403.5" cy="147.5" r="1.20"/><circle cx="398.0" cy="150.5" r="1.20"/><circle cx="401.5" cy="150.5" r="1.20"/></g><circle cx="438.5" cy="70.5" r="11.9" fill="#eef0f6"/><circle cx="438.5" cy="70.5" r="11" fill="url(#gB)"/><g fill="#e8fcff" opacity="0.7"><circle cx="435.0" cy="67.0" r="1.20"/><circle cx="438.5" cy="66.5" r="1.20"/><circle cx="442.0" cy="67.0" r="1.20"/><circle cx="435.0" cy="70.5" r="1.20"/><circle cx="438.5" cy="70.0" r="1.20"/><circle cx="442.0" cy="70.5" r="1.20"/><circle cx="436.5" cy="73.5" r="1.20"/><circle cx="440.0" cy="73.5" r="1.20"/></g><circle cx="438.5" cy="109.0" r="11.9" fill="#eef0f6"/><circle cx="438.5" cy="109.0" r="11" fill="url(#gB)"/><g fill="#e8fcff" opacity="0.7"><circle cx="435.0" cy="105.5" r="1.20"/><circle cx="438.5" cy="105.0" r="1.20"/><circle cx="442.0" cy="105.5" r="1.20"/><circle cx="435.0" cy="109.0" r="1.20"/><circle cx="438.5" cy="108.5" r="1.20"/><circle cx="442.0" cy="109.0" r="1.20"/><circle cx="436.5" cy="112.0" r="1.20"/><circle cx="440.0" cy="112.0" r="1.20"/></g><circle cx="438.5" cy="147.5" r="11.9" fill="#eef0f6"/><circle cx="438.5" cy="147.5" r="11" fill="url(#gB)"/><g fill="#e8fcff" opacity="0.7"><circle cx="435.0" cy="144.0" r="1.20"/><circle cx="438.5" cy="143.5" r="1.20"/><circle cx="442.0" cy="144.0" r="1.20"/><circle cx="435.0" cy="147.5" r="1.20"/><circle cx="438.5" cy="147.0" r="1.20"/><circle cx="442.0" cy="147.5" r="1.20"/><circle cx="436.5" cy="150.5" r="1.20"/><circle cx="440.0" cy="150.5" r="1.20"/></g><circle cx="477.0" cy="70.5" r="11.9" fill="#eef0f6"/><circle cx="477.0" cy="70.5" r="11" fill="url(#gB)"/><g fill="#e8fcff" opacity="0.7"><circle cx="473.5" cy="67.0" r="1.20"/><circle cx="477.0" cy="66.5" r="1.20"/><circle cx="480.5" cy="67.0" r="1.20"/><circle cx="473.5" cy="70.5" r="1.20"/><circle cx="477.0" cy="70.0" r="1.20"/><circle cx="480.5" cy="70.5" r="1.20"/><circle cx="475.0" cy="73.5" r="1.20"/><circle cx="478.5" cy="73.5" r="1.20"/></g><circle cx="477.0" cy="109.0" r="11.9" fill="#eef0f6"/><circle cx="477.0" cy="109.0" r="11" fill="url(#gB)"/><g fill="#e8fcff" opacity="0.7"><circle cx="473.5" cy="105.5" r="1.20"/><circle cx="477.0" cy="105.0" r="1.20"/><circle cx="480.5" cy="105.5" r="1.20"/><circle cx="473.5" cy="109.0" r="1.20"/><circle cx="477.0" cy="108.5" r="1.20"/><circle cx="480.5" cy="109.0" r="1.20"/><circle cx="475.0" cy="112.0" r="1.20"/><circle cx="478.5" cy="112.0" r="1.20"/></g><circle cx="477.0" cy="147.5" r="10.6" fill="#eab8e2" fill-opacity="0.62" stroke="#c81c2c" stroke-width="1.6" stroke-dasharray="3.2 2"/><circle cx="400.0" cy="70.5" r="10.6" fill="#eab8e2" fill-opacity="0.62" stroke="#c81c2c" stroke-width="1.6" stroke-dasharray="3.2 2"/><circle cx="373.7" cy="130.6" r="10" fill="#e4c8ea" fill-opacity="0.85" stroke="#5a48c0" stroke-width="1.4" stroke-dasharray="3 2"/><circle cx="416.9" cy="173.8" r="10" fill="#e4c8ea" fill-opacity="0.85" stroke="#5a48c0" stroke-width="1.4" stroke-dasharray="3 2"/><circle cx="503.3" cy="87.4" r="10" fill="#e4c8ea" fill-opacity="0.85" stroke="#5a48c0" stroke-width="1.4" stroke-dasharray="3 2"/>
<g font-family="Liberation Sans, Arial, sans-serif" font-weight="bold" font-size="14.6" fill="#111"><text x="214.6" y="24.7" textLength="116.6" lengthAdjust="spacingAndGlyphs">Without vacancies</text><text x="391.4" y="24.5" textLength="95.9" lengthAdjust="spacingAndGlyphs">With vacancies</text></g>
<circle cx="402.1" cy="197.5" r="6" fill="#e8c8e8" stroke="#d81c2c" stroke-width="1.3" stroke-dasharray="2.5 1.8"/>
<circle cx="461.3" cy="197.5" r="6" fill="#dcc8ec" stroke="#7a5ac8" stroke-width="1.3" stroke-dasharray="2.5 1.8"/>
<g font-family="Liberation Sans, Arial, sans-serif" font-size="13" fill="#222"><text x="412.5" y="201.5">: V<tspan font-size="8" dy="2.5">Bi</tspan></text><text x="471" y="201.5">: V<tspan font-size="8" dy="2.5">Se</tspan></text></g>
<text x="0.4" y="33.9" font-family="Liberation Sans, Arial, sans-serif" font-weight="bold" font-size="20.9" textLength="25.6" lengthAdjust="spacingAndGlyphs" fill="#111" stroke="#111" stroke-width="0.6">(a)</text>
<g><polyline points="127.6,435.5 129.7,431.1 131.8,431.7 133.9,427.4 136.0,419.0 138.1,436.0 140.2,419.0 142.3,424.3 144.4,423.9 146.5,434.5 148.6,430.0 150.7,427.1 152.8,434.4 154.9,426.5 157.0,433.5 159.1,428.5 161.2,423.5 163.3,429.6 165.4,424.4 167.5,427.0 169.6,436.0 171.7,426.7 173.8,433.9 175.9,429.3 178.0,425.2 180.1,429.0 182.2,436.2 184.3,435.1 186.4,434.7 188.5,436.5 190.6,433.8 192.7,424.7 194.8,427.0 196.9,429.7 199.0,431.3 201.1,425.9 203.2,427.2 205.3,436.2 207.4,435.5 209.5,425.4 211.6,427.2 213.7,434.9 215.8,426.5 217.9,427.2 220.0,432.3 222.1,427.0 224.2,430.2 226.3,429.2 228.4,427.0 230.5,420.0 232.6,418.0 234.7,411.6 236.8,415.0 238.9,421.0 241.0,432.4 243.1,440.2 245.2,439.6 247.3,439.0 249.4,437.0 251.5,438.7 253.6,439.2 255.7,440.1 257.8,441.3 259.9,440.3 262.0,436.3 264.1,441.1 266.2,442.1 268.3,444.3 270.4,438.9 272.5,437.9 274.6,440.5 276.7,442.7 278.8,444.1 280.9,440.5 283.0,438.4 285.1,445.0 287.2,451.0 289.3,440.1 291.4,443.5 293.5,445.5 295.6,438.8 297.7,438.7 299.8,441.3 301.9,439.8 304.0,446.2 306.1,439.3 308.2,444.7 310.3,447.8 312.4,443.6 314.5,443.7 316.6,442.1 318.7,444.4 320.8,443.4 322.9,440.8 325.0,441.3 327.1,448.5 329.2,448.4 331.3,444.7 333.4,447.0 335.5,447.0 337.6,449.3 339.7,447.6 341.8,448.2 343.9,444.5 346.0,444.9 348.1,441.1 350.2,443.5 352.3,441.8 354.4,448.1 356.5,444.9 358.6,448.0 360.7,447.1 362.8,448.1 364.9,443.9 367.0,442.4 369.1,445.2 371.2,445.1 373.3,440.3 375.4,443.3 377.5,443.8 379.6,443.9 381.7,447.1 383.8,439.6 385.9,446.2 388.0,439.5 390.1,437.1 392.2,437.1 394.3,438.0 396.4,434.3 398.5,438.7 400.6,438.4 402.7,436.8 404.8,434.0 406.9,438.2 409.0,442.4 411.1,441.8 413.2,435.3 415.3,444.1 417.4,434.2 419.5,432.3 421.6,441.2 423.7,439.8 425.8,439.7 427.9,432.3 430.0,437.3 432.1,431.6 434.2,437.8 436.3,432.5 438.4,441.5 440.5,431.8 442.6,437.0 444.7,437.5 446.8,439.7 448.9,443.3 451.0,442.3 453.1,435.3" fill="none" stroke="#555" stroke-width="0.6"/><polyline points="127.6,385.3 129.7,385.0 131.8,385.1 133.9,383.0 136.0,386.5 138.1,387.4 140.2,385.6 142.3,385.1 144.4,383.7 146.5,384.7 148.6,390.5 150.7,389.6 152.8,390.8 154.9,385.9 157.0,383.3 159.1,386.0 161.2,384.8 163.3,384.1 165.4,381.5 167.5,383.4 169.6,381.2 171.7,380.1 173.8,380.9 175.9,384.6 178.0,386.8 180.1,384.9 182.2,387.0 184.3,388.3 186.4,389.9 188.5,389.6 190.6,391.6 192.7,392.9 194.8,395.5 196.9,395.6 199.0,397.4 201.1,396.9 203.2,401.1 205.3,401.7 207.4,403.7 209.5,402.0 211.6,405.7 213.7,403.2 215.8,404.4 217.9,404.3 220.0,409.3 222.1,410.6 224.2,408.4 226.3,403.0 228.4,398.7 230.5,380.0 232.6,331.7 234.7,262.6 236.8,266.1 238.9,340.4 241.0,381.0 243.1,410.0 245.2,420.0 247.3,426.0 249.4,428.5 251.5,431.4 253.6,429.3 255.7,428.4 257.8,435.2 259.9,435.4 262.0,437.4 264.1,431.8 266.2,433.2 268.3,436.0 270.4,431.8 272.5,433.2 274.6,436.5 276.7,434.2 278.8,435.0 280.9,438.2 283.0,434.3 285.1,438.0 287.2,438.8 289.3,435.4 291.4,435.2 293.5,434.5 295.6,435.6 297.7,438.5 299.8,436.5 301.9,432.6 304.0,432.7 306.1,433.5 308.2,435.6 310.3,438.2 312.4,433.9 314.5,432.6 316.6,433.8 318.7,437.4 320.8,437.8 322.9,438.8 325.0,437.6 327.1,436.9 329.2,436.5 331.3,439.0 333.4,433.7 335.5,436.6 337.6,438.3 339.7,435.6 341.8,438.7 343.9,431.6 346.0,437.2 348.1,437.4 350.2,431.9 352.3,431.5 354.4,436.3 356.5,438.0 358.6,430.6 360.7,432.2 362.8,434.0 364.9,432.1 367.0,436.9 369.1,437.3 371.2,430.7 373.3,434.0 375.4,433.1 377.5,433.4 379.6,429.0 381.7,436.4 383.8,432.2 385.9,434.9 388.0,430.6 390.1,435.5 392.2,427.3 394.3,432.1 396.4,430.9 398.5,426.0 400.6,425.9 402.7,426.7 404.8,424.2 406.9,428.1 409.0,427.8 411.1,428.8 413.2,425.2 415.3,424.3 417.4,423.6 419.5,424.6 421.6,425.9 423.7,425.6 425.8,423.9 427.9,430.3 430.0,428.5 432.1,423.6 434.2,422.3 436.3,426.7 438.4,423.6 440.5,429.7 442.6,430.3 444.7,425.5 446.8,426.8 448.9,429.5 451.0,427.8 453.1,426.1" fill="none" stroke="#8a5af0" stroke-width="0.7"/><polyline points="127.6,376.5 129.7,376.6 131.8,373.5 133.9,374.0 136.0,364.6 138.1,333.0 140.2,326.0 142.3,338.0 144.4,348.0 146.5,378.0 148.6,385.1 150.7,386.4 152.8,389.9 154.9,386.4 157.0,381.4 159.1,382.0 161.2,387.6 163.3,378.8 165.4,370.0 167.5,383.4 169.6,377.5 171.7,384.8 173.8,381.0 175.9,380.4 178.0,381.6 180.1,387.6 182.2,383.9 184.3,391.5 186.4,386.0 188.5,391.8 190.6,388.1 192.7,390.5 194.8,388.9 196.9,395.6 199.0,400.6 201.1,400.5 203.2,402.0 205.3,395.1 207.4,396.1 209.5,401.6 211.6,396.3 213.7,404.6 215.8,404.5 217.9,406.9 220.0,406.2 222.1,404.1 224.2,402.3 226.3,403.8 228.4,400.0 230.5,379.5 232.6,331.7 234.7,254.3 236.8,284.6 238.9,333.5 241.0,378.8 243.1,405.0 245.2,414.6 247.3,419.0 249.4,424.0 251.5,425.8 253.6,425.7 255.7,426.6 257.8,430.4 259.9,427.2 262.0,428.6 264.1,430.9 266.2,429.1 268.3,429.3 270.4,427.7 272.5,430.8 274.6,432.5 276.7,432.5 278.8,427.8 280.9,432.9 283.0,430.7 285.1,430.2 287.2,431.8 289.3,428.1 291.4,428.5 293.5,430.6 295.6,434.1 297.7,427.6 299.8,432.4 301.9,433.1 304.0,430.8 306.1,429.4 308.2,432.2 310.3,432.4 312.4,432.7 314.5,429.2 316.6,433.1 318.7,430.5 320.8,432.5 322.9,433.8 325.0,434.9 327.1,431.6 329.2,431.1 331.3,434.0 333.4,432.8 335.5,433.9 337.6,429.5 339.7,434.7 341.8,429.4 343.9,429.6 346.0,431.4 348.1,426.1 350.2,433.7 352.3,433.4 354.4,430.5 356.5,432.1 358.6,434.6 360.7,430.2 362.8,431.2 364.9,430.3 367.0,433.0 369.1,432.9 371.2,430.0 373.3,429.1 375.4,433.7 377.5,431.8 379.6,430.6 381.7,427.7 383.8,426.1 385.9,427.6 388.0,427.9 390.1,429.1 392.2,429.9 394.3,423.6 396.4,424.0 398.5,426.9 400.6,421.3 402.7,422.3 404.8,422.4 406.9,423.3 409.0,425.4 411.1,419.2 413.2,425.8 415.3,425.9 417.4,425.5 419.5,423.9 421.6,424.8 423.7,417.7 425.8,416.6 427.9,425.5 430.0,421.3 432.1,423.1 434.2,417.2 436.3,421.3 438.4,417.9 440.5,426.0 442.6,417.3 444.7,424.9 446.8,423.0 448.9,418.5 451.0,420.7 453.1,423.5" fill="none" stroke="#8a4ab0" stroke-width="0.7"/><g fill="#000000"><rect x="125.3" y="433.2" width="4.6" height="4.6"/><rect x="127.4" y="428.8" width="4.6" height="4.6"/><rect x="129.5" y="429.4" width="4.6" height="4.6"/><rect x="131.6" y="425.1" width="4.6" height="4.6"/><rect x="133.7" y="416.7" width="4.6" height="4.6"/><rect x="135.8" y="433.7" width="4.6" height="4.6"/><rect x="137.9" y="416.7" width="4.6" height="4.6"/><rect x="140.0" y="422.0" width="4.6" height="4.6"/><rect x="142.1" y="421.6" width="4.6" height="4.6"/><rect x="144.2" y="432.2" width="4.6" height="4.6"/><rect x="146.3" y="427.7" width="4.6" height="4.6"/><rect x="148.4" y="424.8" width="4.6" height="4.6"/><rect x="150.5" y="432.1" width="4.6" height="4.6"/><rect x="152.6" y="424.2" width="4.6" height="4.6"/><rect x="154.7" y="431.2" width="4.6" height="4.6"/><rect x="156.8" y="426.2" width="4.6" height="4.6"/><rect x="158.9" y="421.2" width="4.6" height="4.6"/><rect x="161.0" y="427.3" width="4.6" height="4.6"/><rect x="163.1" y="422.1" width="4.6" height="4.6"/><rect x="165.2" y="424.7" width="4.6" height="4.6"/><rect x="167.3" y="433.7" width="4.6" height="4.6"/><rect x="169.4" y="424.4" width="4.6" height="4.6"/><rect x="171.5" y="431.6" width="4.6" height="4.6"/><rect x="173.6" y="427.0" width="4.6" height="4.6"/><rect x="175.7" y="422.9" width="4.6" height="4.6"/><rect x="177.8" y="426.7" width="4.6" height="4.6"/><rect x="179.9" y="433.9" width="4.6" height="4.6"/><rect x="182.0" y="432.8" width="4.6" height="4.6"/><rect x="184.1" y="432.4" width="4.6" height="4.6"/><rect x="186.2" y="434.2" width="4.6" height="4.6"/><rect x="188.3" y="431.5" width="4.6" height="4.6"/><rect x="190.4" y="422.4" width="4.6" height="4.6"/><rect x="192.5" y="424.7" width="4.6" height="4.6"/><rect x="194.6" y="427.4" width="4.6" height="4.6"/><rect x="196.7" y="429.0" width="4.6" height="4.6"/><rect x="198.8" y="423.6" width="4.6" height="4.6"/><rect x="200.9" y="424.9" width="4.6" height="4.6"/><rect x="203.0" y="433.9" width="4.6" height="4.6"/><rect x="205.1" y="433.2" width="4.6" height="4.6"/><rect x="207.2" y="423.1" width="4.6" height="4.6"/><rect x="209.3" y="424.9" width="4.6" height="4.6"/><rect x="211.4" y="432.6" width="4.6" height="4.6"/><rect x="213.5" y="424.2" width="4.6" height="4.6"/><rect x="215.6" y="424.9" width="4.6" height="4.6"/><rect x="217.7" y="430.0" width="4.6" height="4.6"/><rect x="219.8" y="424.7" width="4.6" height="4.6"/><rect x="221.9" y="427.9" width="4.6" height="4.6"/><rect x="224.0" y="426.9" width="4.6" height="4.6"/><rect x="226.1" y="424.7" width="4.6" height="4.6"/><rect x="228.2" y="417.7" width="4.6" height="4.6"/><rect x="230.3" y="415.7" width="4.6" height="4.6"/><rect x="232.4" y="409.3" width="4.6" height="4.6"/><rect x="234.5" y="412.7" width="4.6" height="4.6"/><rect x="236.6" y="418.7" width="4.6" height="4.6"/><rect x="238.7" y="430.1" width="4.6" height="4.6"/><rect x="240.8" y="437.9" width="4.6" height="4.6"/><rect x="242.9" y="437.3" width="4.6" height="4.6"/><rect x="245.0" y="436.7" width="4.6" height="4.6"/><rect x="247.1" y="434.7" width="4.6" height="4.6"/><rect x="249.2" y="436.4" width="4.6" height="4.6"/><rect x="251.3" y="436.9" width="4.6" height="4.6"/><rect x="253.4" y="437.8" width="4.6" height="4.6"/><rect x="255.5" y="439.0" width="4.6" height="4.6"/><rect x="257.6" y="438.0" width="4.6" height="4.6"/><rect x="259.7" y="434.0" width="4.6" height="4.6"/><rect x="261.8" y="438.8" width="4.6" height="4.6"/><rect x="263.9" y="439.8" width="4.6" height="4.6"/><rect x="266.0" y="442.0" width="4.6" height="4.6"/><rect x="268.1" y="436.6" width="4.6" height="4.6"/><rect x="270.2" y="435.6" width="4.6" height="4.6"/><rect x="272.3" y="438.2" width="4.6" height="4.6"/><rect x="274.4" y="440.4" width="4.6" height="4.6"/><rect x="276.5" y="441.8" width="4.6" height="4.6"/><rect x="278.6" y="438.2" width="4.6" height="4.6"/><rect x="280.7" y="436.1" width="4.6" height="4.6"/><rect x="282.8" y="442.7" width="4.6" height="4.6"/><rect x="284.9" y="448.7" width="4.6" height="4.6"/><rect x="287.0" y="437.8" width="4.6" height="4.6"/><rect x="289.1" y="441.2" width="4.6" height="4.6"/><rect x="291.2" y="443.2" width="4.6" height="4.6"/><rect x="293.3" y="436.5" width="4.6" height="4.6"/><rect x="295.4" y="436.4" width="4.6" height="4.6"/><rect x="297.5" y="439.0" width="4.6" height="4.6"/><rect x="299.6" y="437.5" width="4.6" height="4.6"/><rect x="301.7" y="443.9" width="4.6" height="4.6"/><rect x="303.8" y="437.0" width="4.6" height="4.6"/><rect x="305.9" y="442.4" width="4.6" height="4.6"/><rect x="308.0" y="445.5" width="4.6" height="4.6"/><rect x="310.1" y="441.3" width="4.6" height="4.6"/><rect x="312.2" y="441.4" width="4.6" height="4.6"/><rect x="314.3" y="439.8" width="4.6" height="4.6"/><rect x="316.4" y="442.1" width="4.6" height="4.6"/><rect x="318.5" y="441.1" width="4.6" height="4.6"/><rect x="320.6" y="438.5" width="4.6" height="4.6"/><rect x="322.7" y="439.0" width="4.6" height="4.6"/><rect x="324.8" y="446.2" width="4.6" height="4.6"/><rect x="326.9" y="446.1" width="4.6" height="4.6"/><rect x="329.0" y="442.4" width="4.6" height="4.6"/><rect x="331.1" y="444.7" width="4.6" height="4.6"/><rect x="333.2" y="444.7" width="4.6" height="4.6"/><rect x="335.3" y="447.0" width="4.6" height="4.6"/><rect x="337.4" y="445.3" width="4.6" height="4.6"/><rect x="339.5" y="445.9" width="4.6" height="4.6"/><rect x="341.6" y="442.2" width="4.6" height="4.6"/><rect x="343.7" y="442.6" width="4.6" height="4.6"/><rect x="345.8" y="438.8" width="4.6" height="4.6"/><rect x="347.9" y="441.2" width="4.6" height="4.6"/><rect x="350.0" y="439.5" width="4.6" height="4.6"/><rect x="352.1" y="445.8" width="4.6" height="4.6"/><rect x="354.2" y="442.6" width="4.6" height="4.6"/><rect x="356.3" y="445.7" width="4.6" height="4.6"/><rect x="358.4" y="444.8" width="4.6" height="4.6"/><rect x="360.5" y="445.8" width="4.6" height="4.6"/><rect x="362.6" y="441.6" width="4.6" height="4.6"/><rect x="364.7" y="440.1" width="4.6" height="4.6"/><rect x="366.8" y="442.9" width="4.6" height="4.6"/><rect x="368.9" y="442.8" width="4.6" height="4.6"/><rect x="371.0" y="438.0" width="4.6" height="4.6"/><rect x="373.1" y="441.0" width="4.6" height="4.6"/><rect x="375.2" y="441.5" width="4.6" height="4.6"/><rect x="377.3" y="441.6" width="4.6" height="4.6"/><rect x="379.4" y="444.8" width="4.6" height="4.6"/><rect x="381.5" y="437.3" width="4.6" height="4.6"/><rect x="383.6" y="443.9" width="4.6" height="4.6"/><rect x="385.7" y="437.2" width="4.6" height="4.6"/><rect x="387.8" y="434.8" width="4.6" height="4.6"/><rect x="389.9" y="434.8" width="4.6" height="4.6"/><rect x="392.0" y="435.7" width="4.6" height="4.6"/><rect x="394.1" y="432.0" width="4.6" height="4.6"/><rect x="396.2" y="436.4" width="4.6" height="4.6"/><rect x="398.3" y="436.1" width="4.6" height="4.6"/><rect x="400.4" y="434.5" width="4.6" height="4.6"/><rect x="402.5" y="431.7" width="4.6" height="4.6"/><rect x="404.6" y="435.9" width="4.6" height="4.6"/><rect x="406.7" y="440.1" width="4.6" height="4.6"/><rect x="408.8" y="439.5" width="4.6" height="4.6"/><rect x="410.9" y="433.0" width="4.6" height="4.6"/><rect x="413.0" y="441.8" width="4.6" height="4.6"/><rect x="415.1" y="431.9" width="4.6" height="4.6"/><rect x="417.2" y="430.0" width="4.6" height="4.6"/><rect x="419.3" y="438.9" width="4.6" height="4.6"/><rect x="421.4" y="437.5" width="4.6" height="4.6"/><rect x="423.5" y="437.4" width="4.6" height="4.6"/><rect x="425.6" y="430.0" width="4.6" height="4.6"/><rect x="427.7" y="435.0" width="4.6" height="4.6"/><rect x="429.8" y="429.3" width="4.6" height="4.6"/><rect x="431.9" y="435.5" width="4.6" height="4.6"/><rect x="434.0" y="430.2" width="4.6" height="4.6"/><rect x="436.1" y="439.2" width="4.6" height="4.6"/><rect x="438.2" y="429.5" width="4.6" height="4.6"/><rect x="440.3" y="434.7" width="4.6" height="4.6"/><rect x="442.4" y="435.2" width="4.6" height="4.6"/><rect x="444.5" y="437.4" width="4.6" height="4.6"/><rect x="446.6" y="441.0" width="4.6" height="4.6"/><rect x="448.7" y="440.0" width="4.6" height="4.6"/><rect x="450.8" y="433.0" width="4.6" height="4.6"/></g><g fill="#6a1ae6"><circle cx="127.6" cy="385.3" r="2.8"/><circle cx="129.7" cy="385.0" r="2.8"/><circle cx="131.8" cy="385.1" r="2.8"/><circle cx="133.9" cy="383.0" r="2.8"/><circle cx="136.0" cy="386.5" r="2.8"/><circle cx="138.1" cy="387.4" r="2.8"/><circle cx="140.2" cy="385.6" r="2.8"/><circle cx="142.3" cy="385.1" r="2.8"/><circle cx="144.4" cy="383.7" r="2.8"/><circle cx="146.5" cy="384.7" r="2.8"/><circle cx="148.6" cy="390.5" r="2.8"/><circle cx="150.7" cy="389.6" r="2.8"/><circle cx="152.8" cy="390.8" r="2.8"/><circle cx="154.9" cy="385.9" r="2.8"/><circle cx="157.0" cy="383.3" r="2.8"/><circle cx="159.1" cy="386.0" r="2.8"/><circle cx="161.2" cy="384.8" r="2.8"/><circle cx="163.3" cy="384.1" r="2.8"/><circle cx="165.4" cy="381.5" r="2.8"/><circle cx="167.5" cy="383.4" r="2.8"/><circle cx="169.6" cy="381.2" r="2.8"/><circle cx="171.7" cy="380.1" r="2.8"/><circle cx="173.8" cy="380.9" r="2.8"/><circle cx="175.9" cy="384.6" r="2.8"/><circle cx="178.0" cy="386.8" r="2.8"/><circle cx="180.1" cy="384.9" r="2.8"/><circle cx="182.2" cy="387.0" r="2.8"/><circle cx="184.3" cy="388.3" r="2.8"/><circle cx="186.4" cy="389.9" r="2.8"/><circle cx="188.5" cy="389.6" r="2.8"/><circle cx="190.6" cy="391.6" r="2.8"/><circle cx="192.7" cy="392.9" r="2.8"/><circle cx="194.8" cy="395.5" r="2.8"/><circle cx="196.9" cy="395.6" r="2.8"/><circle cx="199.0" cy="397.4" r="2.8"/><circle cx="201.1" cy="396.9" r="2.8"/><circle cx="203.2" cy="401.1" r="2.8"/><circle cx="205.3" cy="401.7" r="2.8"/><circle cx="207.4" cy="403.7" r="2.8"/><circle cx="209.5" cy="402.0" r="2.8"/><circle cx="211.6" cy="405.7" r="2.8"/><circle cx="213.7" cy="403.2" r="2.8"/><circle cx="215.8" cy="404.4" r="2.8"/><circle cx="217.9" cy="404.3" r="2.8"/><circle cx="220.0" cy="409.3" r="2.8"/><circle cx="222.1" cy="410.6" r="2.8"/><circle cx="224.2" cy="408.4" r="2.8"/><circle cx="226.3" cy="403.0" r="2.8"/><circle cx="228.4" cy="398.7" r="2.8"/><circle cx="230.5" cy="380.0" r="2.8"/><circle cx="232.6" cy="331.7" r="2.8"/><circle cx="234.7" cy="262.6" r="2.8"/><circle cx="236.8" cy="266.1" r="2.8"/><circle cx="238.9" cy="340.4" r="2.8"/><circle cx="241.0" cy="381.0" r="2.8"/><circle cx="243.1" cy="410.0" r="2.8"/><circle cx="245.2" cy="420.0" r="2.8"/><circle cx="247.3" cy="426.0" r="2.8"/><circle cx="249.4" cy="428.5" r="2.8"/><circle cx="251.5" cy="431.4" r="2.8"/><circle cx="253.6" cy="429.3" r="2.8"/><circle cx="255.7" cy="428.4" r="2.8"/><circle cx="257.8" cy="435.2" r="2.8"/><circle cx="259.9" cy="435.4" r="2.8"/><circle cx="262.0" cy="437.4" r="2.8"/><circle cx="264.1" cy="431.8" r="2.8"/><circle cx="266.2" cy="433.2" r="2.8"/><circle cx="268.3" cy="436.0" r="2.8"/><circle cx="270.4" cy="431.8" r="2.8"/><circle cx="272.5" cy="433.2" r="2.8"/><circle cx="274.6" cy="436.5" r="2.8"/><circle cx="276.7" cy="434.2" r="2.8"/><circle cx="278.8" cy="435.0" r="2.8"/><circle cx="280.9" cy="438.2" r="2.8"/><circle cx="283.0" cy="434.3" r="2.8"/><circle cx="285.1" cy="438.0" r="2.8"/><circle cx="287.2" cy="438.8" r="2.8"/><circle cx="289.3" cy="435.4" r="2.8"/><circle cx="291.4" cy="435.2" r="2.8"/><circle cx="293.5" cy="434.5" r="2.8"/><circle cx="295.6" cy="435.6" r="2.8"/><circle cx="297.7" cy="438.5" r="2.8"/><circle cx="299.8" cy="436.5" r="2.8"/><circle cx="301.9" cy="432.6" r="2.8"/><circle cx="304.0" cy="432.7" r="2.8"/><circle cx="306.1" cy="433.5" r="2.8"/><circle cx="308.2" cy="435.6" r="2.8"/><circle cx="310.3" cy="438.2" r="2.8"/><circle cx="312.4" cy="433.9" r="2.8"/><circle cx="314.5" cy="432.6" r="2.8"/><circle cx="316.6" cy="433.8" r="2.8"/><circle cx="318.7" cy="437.4" r="2.8"/><circle cx="320.8" cy="437.8" r="2.8"/><circle cx="322.9" cy="438.8" r="2.8"/><circle cx="325.0" cy="437.6" r="2.8"/><circle cx="327.1" cy="436.9" r="2.8"/><circle cx="329.2" cy="436.5" r="2.8"/><circle cx="331.3" cy="439.0" r="2.8"/><circle cx="333.4" cy="433.7" r="2.8"/><circle cx="335.5" cy="436.6" r="2.8"/><circle cx="337.6" cy="438.3" r="2.8"/><circle cx="339.7" cy="435.6" r="2.8"/><circle cx="341.8" cy="438.7" r="2.8"/><circle cx="343.9" cy="431.6" r="2.8"/><circle cx="346.0" cy="437.2" r="2.8"/><circle cx="348.1" cy="437.4" r="2.8"/><circle cx="350.2" cy="431.9" r="2.8"/><circle cx="352.3" cy="431.5" r="2.8"/><circle cx="354.4" cy="436.3" r="2.8"/><circle cx="356.5" cy="438.0" r="2.8"/><circle cx="358.6" cy="430.6" r="2.8"/><circle cx="360.7" cy="432.2" r="2.8"/><circle cx="362.8" cy="434.0" r="2.8"/><circle cx="364.9" cy="432.1" r="2.8"/><circle cx="367.0" cy="436.9" r="2.8"/><circle cx="369.1" cy="437.3" r="2.8"/><circle cx="371.2" cy="430.7" r="2.8"/><circle cx="373.3" cy="434.0" r="2.8"/><circle cx="375.4" cy="433.1" r="2.8"/><circle cx="377.5" cy="433.4" r="2.8"/><circle cx="379.6" cy="429.0" r="2.8"/><circle cx="381.7" cy="436.4" r="2.8"/><circle cx="383.8" cy="432.2" r="2.8"/><circle cx="385.9" cy="434.9" r="2.8"/><circle cx="388.0" cy="430.6" r="2.8"/><circle cx="390.1" cy="435.5" r="2.8"/><circle cx="392.2" cy="427.3" r="2.8"/><circle cx="394.3" cy="432.1" r="2.8"/><circle cx="396.4" cy="430.9" r="2.8"/><circle cx="398.5" cy="426.0" r="2.8"/><circle cx="400.6" cy="425.9" r="2.8"/><circle cx="402.7" cy="426.7" r="2.8"/><circle cx="404.8" cy="424.2" r="2.8"/><circle cx="406.9" cy="428.1" r="2.8"/><circle cx="409.0" cy="427.8" r="2.8"/><circle cx="411.1" cy="428.8" r="2.8"/><circle cx="413.2" cy="425.2" r="2.8"/><circle cx="415.3" cy="424.3" r="2.8"/><circle cx="417.4" cy="423.6" r="2.8"/><circle cx="419.5" cy="424.6" r="2.8"/><circle cx="421.6" cy="425.9" r="2.8"/><circle cx="423.7" cy="425.6" r="2.8"/><circle cx="425.8" cy="423.9" r="2.8"/><circle cx="427.9" cy="430.3" r="2.8"/><circle cx="430.0" cy="428.5" r="2.8"/><circle cx="432.1" cy="423.6" r="2.8"/><circle cx="434.2" cy="422.3" r="2.8"/><circle cx="436.3" cy="426.7" r="2.8"/><circle cx="438.4" cy="423.6" r="2.8"/><circle cx="440.5" cy="429.7" r="2.8"/><circle cx="442.6" cy="430.3" r="2.8"/><circle cx="444.7" cy="425.5" r="2.8"/><circle cx="446.8" cy="426.8" r="2.8"/><circle cx="448.9" cy="429.5" r="2.8"/><circle cx="451.0" cy="427.8" r="2.8"/><circle cx="453.1" cy="426.1" r="2.8"/></g><g fill="#540a7c"><path d="M127.6 372.7l3.5 6.1h-7z"/><path d="M129.7 372.8l3.5 6.1h-7z"/><path d="M131.8 369.7l3.5 6.1h-7z"/><path d="M133.9 370.2l3.5 6.1h-7z"/><path d="M136.0 360.8l3.5 6.1h-7z"/><path d="M138.1 329.2l3.5 6.1h-7z"/><path d="M140.2 322.2l3.5 6.1h-7z"/><path d="M142.3 334.2l3.5 6.1h-7z"/><path d="M144.4 344.2l3.5 6.1h-7z"/><path d="M146.5 374.2l3.5 6.1h-7z"/><path d="M148.6 381.3l3.5 6.1h-7z"/><path d="M150.7 382.6l3.5 6.1h-7z"/><path d="M152.8 386.1l3.5 6.1h-7z"/><path d="M154.9 382.6l3.5 6.1h-7z"/><path d="M157.0 377.6l3.5 6.1h-7z"/><path d="M159.1 378.2l3.5 6.1h-7z"/><path d="M161.2 383.8l3.5 6.1h-7z"/><path d="M163.3 375.0l3.5 6.1h-7z"/><path d="M165.4 366.2l3.5 6.1h-7z"/><path d="M167.5 379.6l3.5 6.1h-7z"/><path d="M169.6 373.7l3.5 6.1h-7z"/><path d="M171.7 381.0l3.5 6.1h-7z"/><path d="M173.8 377.2l3.5 6.1h-7z"/><path d="M175.9 376.6l3.5 6.1h-7z"/><path d="M178.0 377.8l3.5 6.1h-7z"/><path d="M180.1 383.8l3.5 6.1h-7z"/><path d="M182.2 380.1l3.5 6.1h-7z"/><path d="M184.3 387.7l3.5 6.1h-7z"/><path d="M186.4 382.2l3.5 6.1h-7z"/><path d="M188.5 388.0l3.5 6.1h-7z"/><path d="M190.6 384.3l3.5 6.1h-7z"/><path d="M192.7 386.7l3.5 6.1h-7z"/><path d="M194.8 385.1l3.5 6.1h-7z"/><path d="M196.9 391.8l3.5 6.1h-7z"/><path d="M199.0 396.8l3.5 6.1h-7z"/><path d="M201.1 396.7l3.5 6.1h-7z"/><path d="M203.2 398.2l3.5 6.1h-7z"/><path d="M205.3 391.3l3.5 6.1h-7z"/><path d="M207.4 392.3l3.5 6.1h-7z"/><path d="M209.5 397.8l3.5 6.1h-7z"/><path d="M211.6 392.5l3.5 6.1h-7z"/><path d="M213.7 400.8l3.5 6.1h-7z"/><path d="M215.8 400.7l3.5 6.1h-7z"/><path d="M217.9 403.1l3.5 6.1h-7z"/><path d="M220.0 402.4l3.5 6.1h-7z"/><path d="M222.1 400.3l3.5 6.1h-7z"/><path d="M224.2 398.5l3.5 6.1h-7z"/><path d="M226.3 400.0l3.5 6.1h-7z"/><path d="M228.4 396.2l3.5 6.1h-7z"/><path d="M230.5 375.7l3.5 6.1h-7z"/><path d="M232.6 327.9l3.5 6.1h-7z"/><path d="M234.7 250.5l3.5 6.1h-7z"/><path d="M236.8 280.8l3.5 6.1h-7z"/><path d="M238.9 329.7l3.5 6.1h-7z"/><path d="M241.0 375.0l3.5 6.1h-7z"/><path d="M243.1 401.2l3.5 6.1h-7z"/><path d="M245.2 410.8l3.5 6.1h-7z"/><path d="M247.3 415.2l3.5 6.1h-7z"/><path d="M249.4 420.2l3.5 6.1h-7z"/><path d="M251.5 422.0l3.5 6.1h-7z"/><path d="M253.6 421.9l3.5 6.1h-7z"/><path d="M255.7 422.8l3.5 6.1h-7z"/><path d="M257.8 426.6l3.5 6.1h-7z"/><path d="M259.9 423.4l3.5 6.1h-7z"/><path d="M262.0 424.8l3.5 6.1h-7z"/><path d="M264.1 427.1l3.5 6.1h-7z"/><path d="M266.2 425.3l3.5 6.1h-7z"/><path d="M268.3 425.5l3.5 6.1h-7z"/><path d="M270.4 423.9l3.5 6.1h-7z"/><path d="M272.5 427.0l3.5 6.1h-7z"/><path d="M274.6 428.7l3.5 6.1h-7z"/><path d="M276.7 428.7l3.5 6.1h-7z"/><path d="M278.8 424.0l3.5 6.1h-7z"/><path d="M280.9 429.1l3.5 6.1h-7z"/><path d="M283.0 426.9l3.5 6.1h-7z"/><path d="M285.1 426.4l3.5 6.1h-7z"/><path d="M287.2 428.0l3.5 6.1h-7z"/><path d="M289.3 424.3l3.5 6.1h-7z"/><path d="M291.4 424.7l3.5 6.1h-7z"/><path d="M293.5 426.8l3.5 6.1h-7z"/><path d="M295.6 430.3l3.5 6.1h-7z"/><path d="M297.7 423.8l3.5 6.1h-7z"/><path d="M299.8 428.6l3.5 6.1h-7z"/><path d="M301.9 429.3l3.5 6.1h-7z"/><path d="M304.0 427.0l3.5 6.1h-7z"/><path d="M306.1 425.6l3.5 6.1h-7z"/><path d="M308.2 428.4l3.5 6.1h-7z"/><path d="M310.3 428.6l3.5 6.1h-7z"/><path d="M312.4 428.9l3.5 6.1h-7z"/><path d="M314.5 425.4l3.5 6.1h-7z"/><path d="M316.6 429.3l3.5 6.1h-7z"/><path d="M318.7 426.7l3.5 6.1h-7z"/><path d="M320.8 428.7l3.5 6.1h-7z"/><path d="M322.9 430.0l3.5 6.1h-7z"/><path d="M325.0 431.1l3.5 6.1h-7z"/><path d="M327.1 427.8l3.5 6.1h-7z"/><path d="M329.2 427.3l3.5 6.1h-7z"/><path d="M331.3 430.2l3.5 6.1h-7z"/><path d="M333.4 429.0l3.5 6.1h-7z"/><path d="M335.5 430.1l3.5 6.1h-7z"/><path d="M337.6 425.7l3.5 6.1h-7z"/><path d="M339.7 430.9l3.5 6.1h-7z"/><path d="M341.8 425.6l3.5 6.1h-7z"/><path d="M343.9 425.8l3.5 6.1h-7z"/><path d="M346.0 427.6l3.5 6.1h-7z"/><path d="M348.1 422.3l3.5 6.1h-7z"/><path d="M350.2 429.9l3.5 6.1h-7z"/><path d="M352.3 429.6l3.5 6.1h-7z"/><path d="M354.4 426.7l3.5 6.1h-7z"/><path d="M356.5 428.3l3.5 6.1h-7z"/><path d="M358.6 430.8l3.5 6.1h-7z"/><path d="M360.7 426.4l3.5 6.1h-7z"/><path d="M362.8 427.4l3.5 6.1h-7z"/><path d="M364.9 426.5l3.5 6.1h-7z"/><path d="M367.0 429.2l3.5 6.1h-7z"/><path d="M369.1 429.1l3.5 6.1h-7z"/><path d="M371.2 426.2l3.5 6.1h-7z"/><path d="M373.3 425.3l3.5 6.1h-7z"/><path d="M375.4 429.9l3.5 6.1h-7z"/><path d="M377.5 428.0l3.5 6.1h-7z"/><path d="M379.6 426.8l3.5 6.1h-7z"/><path d="M381.7 423.9l3.5 6.1h-7z"/><path d="M383.8 422.3l3.5 6.1h-7z"/><path d="M385.9 423.8l3.5 6.1h-7z"/><path d="M388.0 424.1l3.5 6.1h-7z"/><path d="M390.1 425.3l3.5 6.1h-7z"/><path d="M392.2 426.1l3.5 6.1h-7z"/><path d="M394.3 419.8l3.5 6.1h-7z"/><path d="M396.4 420.2l3.5 6.1h-7z"/><path d="M398.5 423.1l3.5 6.1h-7z"/><path d="M400.6 417.5l3.5 6.1h-7z"/><path d="M402.7 418.5l3.5 6.1h-7z"/><path d="M404.8 418.6l3.5 6.1h-7z"/><path d="M406.9 419.5l3.5 6.1h-7z"/><path d="M409.0 421.6l3.5 6.1h-7z"/><path d="M411.1 415.4l3.5 6.1h-7z"/><path d="M413.2 422.0l3.5 6.1h-7z"/><path d="M415.3 422.1l3.5 6.1h-7z"/><path d="M417.4 421.7l3.5 6.1h-7z"/><path d="M419.5 420.1l3.5 6.1h-7z"/><path d="M421.6 421.0l3.5 6.1h-7z"/><path d="M423.7 413.9l3.5 6.1h-7z"/><path d="M425.8 412.8l3.5 6.1h-7z"/><path d="M427.9 421.7l3.5 6.1h-7z"/><path d="M430.0 417.5l3.5 6.1h-7z"/><path d="M432.1 419.3l3.5 6.1h-7z"/><path d="M434.2 413.4l3.5 6.1h-7z"/><path d="M436.3 417.5l3.5 6.1h-7z"/><path d="M438.4 414.1l3.5 6.1h-7z"/><path d="M440.5 422.2l3.5 6.1h-7z"/><path d="M442.6 413.5l3.5 6.1h-7z"/><path d="M444.7 421.1l3.5 6.1h-7z"/><path d="M446.8 419.2l3.5 6.1h-7z"/><path d="M448.9 414.7l3.5 6.1h-7z"/><path d="M451.0 416.9l3.5 6.1h-7z"/><path d="M453.1 419.7l3.5 6.1h-7z"/></g></g>
<path d="M127.4 211.1V465.6M127.4 457.3H455.3M455.3 463.5V211.1M127.4 211.1H455.3" fill="none" stroke="#333" stroke-width="1.3"/><path d="M136.6 457.3v5.2M136.6 211.1v-5.2M159.3 457.3v3M159.3 211.1v-3M182.1 457.3v5.2M182.1 211.1v-5.2M204.8 457.3v3M204.8 211.1v-3M227.5 457.3v5.2M227.5 211.1v-5.2M250.3 457.3v3M250.3 211.1v-3M273.0 457.3v5.2M273.0 211.1v-5.2M295.7 457.3v3M295.7 211.1v-3M318.5 457.3v5.2M318.5 211.1v-5.2M341.2 457.3v3M341.2 211.1v-3M363.9 457.3v5.2M363.9 211.1v-5.2M386.7 457.3v3M386.7 211.1v-3M409.4 457.3v5.2M409.4 211.1v-5.2M432.2 457.3v3M432.2 211.1v-3M454.9 457.3v5.2M454.9 211.1v-5.2M127.4 211.0h-4.7M455.3 211.0h4.7M127.4 280.0h-4.7M455.3 280.0h4.7M127.4 348.5h-4.7M455.3 348.5h4.7M127.4 417.0h-4.7M455.3 417.0h4.7" stroke="#333" stroke-width="1.2"/><g font-family="Liberation Sans, Arial, sans-serif" font-size="14.5" fill="#111"><text x="136.6" y="478" text-anchor="middle">50</text><text x="182.1" y="478" text-anchor="middle">100</text><text x="227.5" y="478" text-anchor="middle">150</text><text x="273.0" y="478" text-anchor="middle">200</text><text x="318.5" y="478" text-anchor="middle">250</text><text x="363.9" y="478" text-anchor="middle">300</text><text x="409.4" y="478" text-anchor="middle">350</text><text x="454.9" y="478" text-anchor="middle">400</text></g>
<text x="0.7" y="244.2" font-family="Liberation Sans, Arial, sans-serif" font-weight="bold" font-size="21" textLength="26.6" lengthAdjust="spacingAndGlyphs" fill="#111" stroke="#111" stroke-width="0.6">(b)</text>
<text transform="translate(110.5,331.75) rotate(-90)" text-anchor="middle" font-family="Liberation Sans, Arial, sans-serif" font-weight="bold" font-size="19.8" fill="#111">Raman Int.(arb.unit)</text>
<g font-family="Liberation Sans, Arial, sans-serif" fill="#111"><text x="211.4" y="509.3" font-weight="bold" font-size="18" textLength="105.6" lengthAdjust="spacingAndGlyphs">Raman Shift</text><text x="318.2" y="511" font-size="23.3" stroke="#111" stroke-width="0.45">(</text><text x="324.6" y="509.3" font-weight="bold" font-size="18">cm</text><text x="352" y="498.3" font-weight="bold" font-size="10.5">-1</text><text x="364.5" y="511" font-size="23.3" stroke="#111" stroke-width="0.45">)</text></g>
<g font-family="Liberation Sans, Arial, sans-serif" font-weight="bold" fill="#111" stroke="#111" stroke-width="0.35"><text x="136.6" y="310" font-size="13" textLength="7.4" lengthAdjust="spacingAndGlyphs">E</text><text x="144.2" y="313" font-size="9.2">u</text><text x="152.8" y="310" font-size="13" textLength="23.6" lengthAdjust="spacingAndGlyphs">(IR)</text><text x="223.4" y="241.7" font-size="13" textLength="10.5" lengthAdjust="spacingAndGlyphs">A</text><text x="235.2" y="245.2" font-size="9.6" textLength="11" lengthAdjust="spacingAndGlyphs">1g</text><text x="248.2" y="241.7" font-size="13" textLength="20.6" lengthAdjust="spacingAndGlyphs">(R)</text></g>
<path d="M323.2 264.5H349" stroke="#444" stroke-width="0.9"/>
<path d="M323.2 279.3H349" stroke="#7a4af0" stroke-width="0.9"/><path d="M323.2 293.5H349" stroke="#9a5ac0" stroke-width="0.9"/>
<rect x="333.7" y="262" width="5" height="5" fill="#000"/>
<circle cx="336.2" cy="279.3" r="3.1" fill="#6a1ae6"/>
<path d="M336.2 289.6l3.7 6.3h-7.4z" fill="#540a7c"/>
<g font-family="Liberation Sans, Arial, sans-serif" font-size="11.8" fill="#222"><text x="351.7" y="268.8">Fresh</text><text x="351.7" y="283.6" textLength="53.6" lengthAdjust="spacingAndGlyphs">Aged body</text><text x="351.7" y="298" textLength="53.6" lengthAdjust="spacingAndGlyphs">Aged edge</text></g>
<defs><filter id="bl" x="-0.2" y="-0.2" width="1.4" height="1.4"><feGaussianBlur stdDeviation="1.2"/></filter><filter id="bl2" x="-0.2" y="-0.2" width="1.4" height="1.4"><feGaussianBlur stdDeviation="0.6"/></filter></defs>
<rect x="286.8" y="339.4" width="61.7" height="66.4" fill="#8a8a8a"/>
<rect x="296.3" y="349" width="41.8" height="49" fill="#b8b8b8" filter="url(#bl)"/>
<rect x="297.6" y="350.2" width="39.4" height="46.6" fill="#fdfdfd" filter="url(#bl2)"/>
<rect x="352" y="340" width="60.8" height="66" fill="#8a8a8a"/>
<rect x="360.6" y="351" width="38.8" height="45.5" fill="#fefeff" stroke="#4e4678" stroke-width="1.4"/>
<g font-family="Liberation Sans, Arial, sans-serif" font-weight="bold" font-size="10" fill="#000" stroke="#000" stroke-width="0.3"><text x="302" y="348" textLength="26" lengthAdjust="spacingAndGlyphs">Fresh</text><text x="366.5" y="347" textLength="26" lengthAdjust="spacingAndGlyphs">Aged</text></g>
</svg></body></html>
